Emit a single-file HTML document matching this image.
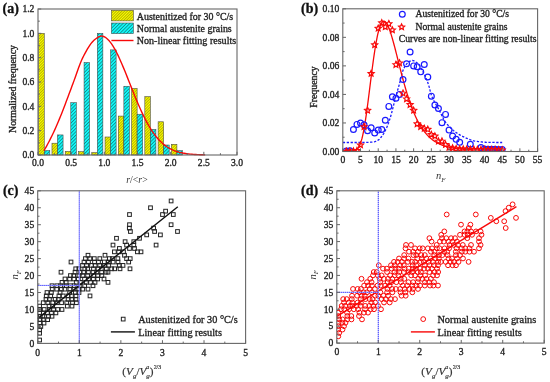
<!DOCTYPE html>
<html><head><meta charset="utf-8"><title>Figure</title>
<style>html,body{margin:0;padding:0;background:#fff;}body{width:550px;height:382px;overflow:hidden;font-family:"Liberation Serif",serif;}svg{display:block;will-change:transform;}</style>
</head><body>
<svg width="550" height="382" viewBox="0 0 550 382" font-family="Liberation Serif, serif"><defs>
<pattern id="hy" patternUnits="userSpaceOnUse" width="1.95" height="1.95" patternTransform="rotate(45)">
<rect width="1.95" height="1.95" fill="#ffff00"/><line x1="0.35" y1="0" x2="0.35" y2="1.95" stroke="#6a6a00" stroke-width="0.6"/></pattern>
<pattern id="hc" patternUnits="userSpaceOnUse" width="2.4" height="2.4" patternTransform="rotate(45)">
<rect width="2.4" height="2.4" fill="#10f8f8"/><line x1="0.4" y1="0" x2="0.4" y2="2.4" stroke="#127a7a" stroke-width="0.7"/></pattern>
<path id="star" d="M0.00,-2.90 L0.88,-0.96 L3.00,-0.72 L1.43,0.71 L1.85,2.80 L0.00,1.75 L-1.85,2.80 L-1.43,0.71 L-3.00,-0.72 L-0.88,-0.96 Z"/>
</defs>
<rect x="38.7" y="33.33" width="5.55" height="121.67" fill="url(#hy)" stroke="#444" stroke-width="0.55"/>
<rect x="44.25" y="150.62" width="5.55" height="4.38" fill="url(#hc)" stroke="#444" stroke-width="0.55"/>
<rect x="51.97" y="143.2" width="5.55" height="11.8" fill="url(#hy)" stroke="#444" stroke-width="0.55"/>
<rect x="57.52" y="134.93" width="5.55" height="20.07" fill="url(#hc)" stroke="#444" stroke-width="0.55"/>
<rect x="65.23" y="151.35" width="5.55" height="3.65" fill="url(#hy)" stroke="#444" stroke-width="0.55"/>
<rect x="70.78" y="102.68" width="5.55" height="52.32" fill="url(#hc)" stroke="#444" stroke-width="0.55"/>
<rect x="78.5" y="151.72" width="5.55" height="3.28" fill="url(#hy)" stroke="#444" stroke-width="0.55"/>
<rect x="84.05" y="62.53" width="5.55" height="92.47" fill="url(#hc)" stroke="#444" stroke-width="0.55"/>
<rect x="91.77" y="152.57" width="5.55" height="2.43" fill="url(#hy)" stroke="#444" stroke-width="0.55"/>
<rect x="97.32" y="33.33" width="5.55" height="121.67" fill="url(#hc)" stroke="#444" stroke-width="0.55"/>
<rect x="105.03" y="136.99" width="5.55" height="18.01" fill="url(#hy)" stroke="#444" stroke-width="0.55"/>
<rect x="110.58" y="49.88" width="5.55" height="105.12" fill="url(#hc)" stroke="#444" stroke-width="0.55"/>
<rect x="118.3" y="116.07" width="5.55" height="38.93" fill="url(#hy)" stroke="#444" stroke-width="0.55"/>
<rect x="123.85" y="86.26" width="5.55" height="68.74" fill="url(#hc)" stroke="#444" stroke-width="0.55"/>
<rect x="131.57" y="88.45" width="5.55" height="66.55" fill="url(#hy)" stroke="#444" stroke-width="0.55"/>
<rect x="137.12" y="114.24" width="5.55" height="40.76" fill="url(#hc)" stroke="#444" stroke-width="0.55"/>
<rect x="144.83" y="96.6" width="5.55" height="58.4" fill="url(#hy)" stroke="#444" stroke-width="0.55"/>
<rect x="150.38" y="129.45" width="5.55" height="25.55" fill="url(#hc)" stroke="#444" stroke-width="0.55"/>
<rect x="158.1" y="121.78" width="5.55" height="33.22" fill="url(#hy)" stroke="#444" stroke-width="0.55"/>
<rect x="163.65" y="145.02" width="5.55" height="9.98" fill="url(#hc)" stroke="#444" stroke-width="0.55"/>
<rect x="171.37" y="144.29" width="5.55" height="10.71" fill="url(#hy)" stroke="#444" stroke-width="0.55"/>
<rect x="176.92" y="150.62" width="5.55" height="4.38" fill="url(#hc)" stroke="#444" stroke-width="0.55"/>
<path d="M43.97,150.62 L44.94,148.99 L45.9,147.3 L46.87,145.57 L47.84,143.79 L48.8,141.96 L49.77,140.09 L50.74,138.18 L51.71,136.24 L52.67,134.25 L53.64,132.22 L54.61,130.12 L55.57,127.97 L56.54,125.75 L57.51,123.49 L58.47,121.19 L59.44,118.86 L60.41,116.51 L61.37,114.14 L62.34,111.72 L63.31,109.25 L64.27,106.74 L65.24,104.19 L66.21,101.62 L67.18,99.03 L68.14,96.43 L69.11,93.83 L70.08,91.24 L71.04,88.66 L72.01,86.1 L72.98,83.53 L73.94,80.88 L74.91,78.16 L75.88,75.41 L76.84,72.66 L77.81,69.94 L78.78,67.28 L79.75,64.72 L80.71,62.28 L81.68,59.99 L82.65,57.89 L83.61,55.99 L84.58,54.16 L85.55,52.37 L86.51,50.63 L87.48,48.96 L88.45,47.35 L89.41,45.84 L90.38,44.42 L91.35,43.12 L92.31,41.94 L93.28,40.9 L94.25,40.01 L95.22,39.24 L96.18,38.51 L97.15,37.83 L98.12,37.23 L99.08,36.72 L100.05,36.31 L101.02,36.01 L102.33,36.14 L103.65,36.52 L104.97,37.15 L106.29,38.03 L107.61,39.15 L108.93,40.5 L110.24,42.08 L111.56,43.87 L112.88,45.87 L114.2,48.06 L115.52,50.43 L116.84,52.97 L118.15,55.66 L119.47,58.48 L120.79,61.43 L122.11,64.47 L123.43,67.61 L124.75,70.82 L126.06,74.08 L127.38,77.38 L128.7,80.7 L130.02,84.04 L131.34,87.37 L132.66,90.68 L133.97,93.96 L135.29,97.2 L136.61,100.38 L137.93,103.49 L139.25,106.54 L140.56,109.49 L141.88,112.37 L143.2,115.14 L144.52,117.81 L145.84,120.38 L147.16,122.84 L148.47,125.19 L149.79,127.42 L151.11,129.55 L152.43,131.56 L153.75,133.45 L155.07,135.24 L156.38,136.92 L157.7,138.48 L159.02,139.95 L160.34,141.31 L161.66,142.58 L162.98,143.76 L164.29,144.84 L165.61,145.84 L166.93,146.76 L168.25,147.6 L169.57,148.37 L170.88,149.08 L172.2,149.72 L173.52,150.3 L174.84,150.82 L176.16,151.3 L177.48,151.73 L178.79,152.11 L180.11,152.45 L181.43,152.76 L182.75,153.04 L184.07,153.28 L185.39,153.5 L186.7,153.69 L188.02,153.86 L189.34,154.02 L190.66,154.15 L191.98,154.26 L193.3,154.37 L194.61,154.45 L195.93,154.53 L197.25,154.6 L198.57,154.66 L199.89,154.71 L201.21,154.75 L202.52,154.79 L203.84,154.82 L205.16,154.85" fill="none" stroke="#f80808" stroke-width="1.4"/>
<rect x="38" y="9" width="199" height="146" fill="none" stroke="#666" stroke-width="1.1"/>
<line x1="38" y1="155" x2="38" y2="151.8" stroke="#666" stroke-width="1"/>
<line x1="71.17" y1="155" x2="71.17" y2="151.8" stroke="#666" stroke-width="1"/>
<line x1="104.33" y1="155" x2="104.33" y2="151.8" stroke="#666" stroke-width="1"/>
<line x1="137.5" y1="155" x2="137.5" y2="151.8" stroke="#666" stroke-width="1"/>
<line x1="170.67" y1="155" x2="170.67" y2="151.8" stroke="#666" stroke-width="1"/>
<line x1="203.83" y1="155" x2="203.83" y2="151.8" stroke="#666" stroke-width="1"/>
<line x1="237" y1="155" x2="237" y2="151.8" stroke="#666" stroke-width="1"/>
<line x1="54.58" y1="155" x2="54.58" y2="153.2" stroke="#666" stroke-width="1"/>
<line x1="87.75" y1="155" x2="87.75" y2="153.2" stroke="#666" stroke-width="1"/>
<line x1="120.92" y1="155" x2="120.92" y2="153.2" stroke="#666" stroke-width="1"/>
<line x1="154.08" y1="155" x2="154.08" y2="153.2" stroke="#666" stroke-width="1"/>
<line x1="187.25" y1="155" x2="187.25" y2="153.2" stroke="#666" stroke-width="1"/>
<line x1="220.42" y1="155" x2="220.42" y2="153.2" stroke="#666" stroke-width="1"/>
<text x="38" y="166" font-size="9.6" text-anchor="middle" font-weight="normal" font-style="normal" fill="#222" stroke="#222" stroke-width="0.32" >0.0</text>
<text x="71.17" y="166" font-size="9.6" text-anchor="middle" font-weight="normal" font-style="normal" fill="#222" stroke="#222" stroke-width="0.32" >0.5</text>
<text x="104.33" y="166" font-size="9.6" text-anchor="middle" font-weight="normal" font-style="normal" fill="#222" stroke="#222" stroke-width="0.32" >1.0</text>
<text x="137.5" y="166" font-size="9.6" text-anchor="middle" font-weight="normal" font-style="normal" fill="#222" stroke="#222" stroke-width="0.32" >1.5</text>
<text x="170.67" y="166" font-size="9.6" text-anchor="middle" font-weight="normal" font-style="normal" fill="#222" stroke="#222" stroke-width="0.32" >2.0</text>
<text x="203.83" y="166" font-size="9.6" text-anchor="middle" font-weight="normal" font-style="normal" fill="#222" stroke="#222" stroke-width="0.32" >2.5</text>
<text x="237" y="166" font-size="9.6" text-anchor="middle" font-weight="normal" font-style="normal" fill="#222" stroke="#222" stroke-width="0.32" >3.0</text>
<line x1="38" y1="155" x2="41.2" y2="155" stroke="#666" stroke-width="1"/>
<line x1="38" y1="130.67" x2="41.2" y2="130.67" stroke="#666" stroke-width="1"/>
<line x1="38" y1="106.33" x2="41.2" y2="106.33" stroke="#666" stroke-width="1"/>
<line x1="38" y1="82" x2="41.2" y2="82" stroke="#666" stroke-width="1"/>
<line x1="38" y1="57.67" x2="41.2" y2="57.67" stroke="#666" stroke-width="1"/>
<line x1="38" y1="33.33" x2="41.2" y2="33.33" stroke="#666" stroke-width="1"/>
<line x1="38" y1="9" x2="41.2" y2="9" stroke="#666" stroke-width="1"/>
<line x1="38" y1="142.83" x2="39.8" y2="142.83" stroke="#666" stroke-width="1"/>
<line x1="38" y1="118.5" x2="39.8" y2="118.5" stroke="#666" stroke-width="1"/>
<line x1="38" y1="94.17" x2="39.8" y2="94.17" stroke="#666" stroke-width="1"/>
<line x1="38" y1="69.83" x2="39.8" y2="69.83" stroke="#666" stroke-width="1"/>
<line x1="38" y1="45.5" x2="39.8" y2="45.5" stroke="#666" stroke-width="1"/>
<line x1="38" y1="21.17" x2="39.8" y2="21.17" stroke="#666" stroke-width="1"/>
<text x="34.4" y="158.3" font-size="9.6" text-anchor="end" font-weight="normal" font-style="normal" fill="#222" stroke="#222" stroke-width="0.32" >0.0</text>
<text x="34.4" y="133.97" font-size="9.6" text-anchor="end" font-weight="normal" font-style="normal" fill="#222" stroke="#222" stroke-width="0.32" >0.2</text>
<text x="34.4" y="109.63" font-size="9.6" text-anchor="end" font-weight="normal" font-style="normal" fill="#222" stroke="#222" stroke-width="0.32" >0.4</text>
<text x="34.4" y="85.3" font-size="9.6" text-anchor="end" font-weight="normal" font-style="normal" fill="#222" stroke="#222" stroke-width="0.32" >0.6</text>
<text x="34.4" y="60.97" font-size="9.6" text-anchor="end" font-weight="normal" font-style="normal" fill="#222" stroke="#222" stroke-width="0.32" >0.8</text>
<text x="34.4" y="36.63" font-size="9.6" text-anchor="end" font-weight="normal" font-style="normal" fill="#222" stroke="#222" stroke-width="0.32" >1.0</text>
<text x="34.4" y="12.3" font-size="9.6" text-anchor="end" font-weight="normal" font-style="normal" fill="#222" stroke="#222" stroke-width="0.32" >1.2</text>
<rect x="111.4" y="10.3" width="22" height="10.6" fill="url(#hy)" stroke="#444" stroke-width="0.55"/>
<rect x="111.4" y="23" width="22" height="10.6" fill="url(#hc)" stroke="#444" stroke-width="0.55"/>
<line x1="111.4" y1="40.5" x2="133.5" y2="40.5" stroke="#f80808" stroke-width="1.4"/>
<text x="136.8" y="20" font-size="9.95" text-anchor="start" font-weight="normal" font-style="normal" fill="#222" stroke="#222" stroke-width="0.32" >Austenitized for 30 °C/s</text>
<text x="136.8" y="32" font-size="9.95" text-anchor="start" font-weight="normal" font-style="normal" fill="#222" stroke="#222" stroke-width="0.32" >Normal austenite grains</text>
<text x="136.8" y="43.9" font-size="10.05" text-anchor="start" font-weight="normal" font-style="normal" fill="#222" stroke="#222" stroke-width="0.32" >Non-linear fitting results</text>
<text x="2.6" y="13.1" font-size="14" text-anchor="start" font-weight="bold" font-style="normal" fill="#111" stroke="#111" stroke-width="0.32" >(a)</text>
<text x="12.2" y="89" font-size="9.8" text-anchor="middle" font-weight="normal" font-style="normal" fill="#222" stroke="#222" stroke-width="0.32" transform="rotate(-90 12.2 89)" dy="3.4">Normalized frequency</text>
<text x="137" y="182.5" font-size="9.8" text-anchor="middle" fill="#333"><tspan font-style="italic">r</tspan>/&lt;<tspan font-style="italic">r</tspan>&gt;</text>
<clipPath id="cb"><rect x="342.8" y="8.8" width="194.8" height="142.7"/></clipPath><g clip-path="url(#cb)">
<path d="M342.8,142.51 L343.6,142.51 L344.4,142.51 L345.2,142.51 L346,142.51 L346.8,142.51 L347.61,142.51 L348.41,142.51 L349.21,142.51 L350.01,142.51 L350.81,142.51 L351.61,142.51 L352.41,142.51 L353.21,142.51 L354.01,142.51 L354.81,142.51 L355.61,142.51 L356.42,142.51 L357.22,142.51 L358.02,142.51 L358.82,142.51 L359.62,142.51 L360.42,142.51 L361.22,142.51 L362.02,142.5 L362.82,142.5 L363.62,142.48 L364.42,142.47 L365.23,142.45 L366.03,142.43 L366.83,142.4 L367.63,142.37 L368.43,142.34 L369.23,142.3 L370.03,142.26 L370.83,142.22 L371.63,142.17 L372.43,142.11 L373.23,142.05 L374.04,141.91 L374.84,141.68 L375.64,141.39 L376.44,141.03 L377.24,140.63 L378.04,140.19 L378.84,139.66 L379.64,138.93 L380.44,138.03 L381.24,137.01 L382.04,135.91 L382.85,134.77 L383.65,133.55 L384.45,132.19 L385.25,130.69 L386.05,129.07 L386.85,127.32 L387.65,125.41 L388.45,123.25 L389.25,120.88 L390.05,118.37 L390.85,115.73 L391.66,112.84 L392.46,109.75 L393.26,106.62 L394.06,103.36 L394.86,100.06 L395.66,96.95 L396.46,94.11 L397.26,91.41 L398.06,88.75 L398.86,86.03 L399.66,83.07 L400.47,79.78 L401.27,76.41 L402.07,73.28 L402.87,70.67 L403.67,68.82 L404.47,67.28 L405.27,65.9 L406.07,64.69 L406.87,63.67 L407.67,62.84 L408.47,62.21 L409.28,61.65 L410.08,61.15 L410.88,60.75 L411.68,60.51 L412.48,60.47 L413.28,60.62 L414.08,60.94 L414.88,61.38 L415.68,61.91 L416.48,62.5 L417.28,63.11 L418.09,63.91 L418.89,64.95 L419.69,66.16 L420.49,67.46 L421.29,68.79 L422.09,70.13 L422.89,71.54 L423.69,73.04 L424.49,74.64 L425.29,76.34 L426.1,78.15 L426.9,80.14 L427.7,82.32 L428.5,84.7 L429.3,87.38 L430.1,90.63 L430.9,93.75 L431.7,96.06 L432.5,97.96 L433.3,99.66 L434.1,101.2 L434.91,102.62 L435.71,103.98 L436.51,105.31 L437.31,106.67 L438.11,108.09 L438.91,109.62 L439.71,111.23 L440.51,112.88 L441.31,114.54 L442.11,116.18 L442.91,117.76 L443.72,119.25 L444.52,120.62 L445.32,121.83 L446.12,122.9 L446.92,123.92 L447.72,124.88 L448.52,125.8 L449.32,126.67 L450.12,127.5 L450.92,128.29 L451.72,129.04 L452.53,129.75 L453.33,130.43 L454.13,131.07 L454.93,131.68 L455.73,132.26 L456.53,132.82 L457.33,133.36 L458.13,133.88 L458.93,134.38 L459.73,134.86 L460.53,135.32 L461.34,135.76 L462.14,136.18 L462.94,136.58 L463.74,136.96 L464.54,137.33 L465.34,137.68 L466.14,138.04 L466.94,138.39 L467.74,138.74 L468.54,139.08 L469.34,139.4 L470.15,139.72 L470.95,140.01 L471.75,140.29 L472.55,140.54 L473.35,140.76 L474.15,140.96 L474.95,141.12 L475.75,141.24 L476.55,141.36 L477.35,141.46 L478.15,141.56 L478.96,141.66 L479.76,141.75 L480.56,141.84 L481.36,141.92 L482.16,142 L482.96,142.07 L483.76,142.13 L484.56,142.19 L485.36,142.24 L486.16,142.28 L486.96,142.32 L487.77,142.34 L488.57,142.36 L489.37,142.38 L490.17,142.39 L490.97,142.41 L491.77,142.42 L492.57,142.43 L493.37,142.44 L494.17,142.46 L494.97,142.46 L495.77,142.47 L496.58,142.48 L497.38,142.49 L498.18,142.5 L498.98,142.5 L499.78,142.5 L500.58,142.51 L501.38,142.51 L502.18,142.51" fill="none" stroke="#1a1aff" stroke-width="1.3" stroke-dasharray="2.3,1.6"/>
<path d="M344.57,150.36 L345.1,150.36 L345.63,150.36 L346.15,150.36 L346.68,150.36 L347.21,150.36 L347.73,150.36 L348.26,150.36 L348.79,150.36 L349.32,150.36 L349.84,150.36 L350.37,150.36 L350.9,150.36 L351.42,150.35 L351.95,150.35 L352.48,150.33 L353,150.31 L353.53,150.28 L354.06,150.23 L354.59,150.14 L355.11,150.03 L355.64,149.86 L356.17,149.63 L356.69,149.32 L357.22,148.92 L357.75,148.41 L358.28,147.78 L358.8,147 L359.33,146.06 L359.86,144.95 L360.38,143.64 L360.91,142.14 L361.44,140.42 L361.97,138.49 L362.49,136.33 L363.02,133.95 L363.55,131.35 L364.07,128.54 L364.6,125.51 L365.13,122.29 L365.66,118.88 L366.18,115.31 L366.71,111.58 L367.24,107.71 L367.76,103.74 L368.29,99.67 L368.82,95.53 L369.35,91.34 L369.87,87.13 L370.4,82.92 L370.93,78.73 L371.45,74.57 L371.98,70.48 L372.51,66.47 L373.04,62.57 L373.56,58.77 L374.09,55.11 L374.62,51.6 L375.14,48.25 L375.67,45.07 L376.2,42.07 L376.73,39.26 L377.25,36.64 L377.78,34.23 L378.31,32.02 L378.83,30.02 L379.36,28.23 L379.89,26.65 L380.42,25.28 L380.94,24.11 L381.47,23.15 L382,22.38 L382.52,21.82 L383.05,21.44 L383.58,21.24 L384.11,21.23 L384.63,21.39 L385.16,21.71 L385.69,22.19 L386.21,22.82 L386.74,23.59 L387.27,24.49 L387.8,25.52 L388.32,26.67 L388.85,27.93 L389.38,29.29 L389.9,30.75 L390.43,32.3 L390.96,33.92 L391.49,35.62 L392.01,37.38 L392.54,39.2 L393.07,41.08 L393.59,43 L394.12,44.96 L394.65,46.95 L395.18,48.97 L395.7,51.02 L396.23,53.08 L396.76,55.15 L397.28,57.24 L397.81,59.33 L398.34,61.42 L398.86,63.51 L399.39,65.59 L399.92,67.66 L400.45,69.71 L400.97,71.76 L401.5,73.78 L402.03,75.78 L402.55,77.77 L403.08,79.72 L403.61,81.65 L404.14,83.56 L404.66,85.43 L405.19,87.27 L405.72,89.09 L406.24,90.87 L406.77,92.61 L407.3,94.33 L407.83,96 L408.35,97.65 L408.88,99.26 L409.41,100.83 L409.93,102.37 L410.46,103.87 L410.99,105.33 L411.52,106.76 L412.04,108.16 L412.57,109.52 L413.1,110.84 L413.62,112.13 L414.15,113.38 L414.68,114.61 L415.21,115.79 L415.73,116.95 L416.26,118.07 L416.79,119.16 L417.31,120.22 L417.84,121.24 L418.37,122.24 L418.9,123.21 L419.42,124.14 L419.95,125.05 L420.48,125.93 L421,126.79 L421.53,127.61 L422.06,128.41 L422.59,129.19 L423.11,129.94 L423.64,130.66 L424.17,131.36 L424.69,132.04 L425.22,132.7 L425.75,133.33 L426.28,133.95 L426.8,134.54 L427.33,135.11 L427.86,135.67 L428.38,136.2 L428.91,136.72 L429.44,137.22 L429.97,137.7 L430.49,138.16 L431.02,138.61 L431.55,139.04 L432.07,139.46 L432.6,139.86 L433.13,140.25 L433.66,140.63 L434.18,140.99 L434.71,141.34 L435.24,141.67 L435.76,142 L436.29,142.31 L436.82,142.61 L437.35,142.9 L437.87,143.18 L438.4,143.45 L438.93,143.71 L439.45,143.96 L439.98,144.2 L440.51,144.43 L441.04,144.65 L441.56,144.87 L442.09,145.07 L442.62,145.27 L443.14,145.47 L443.67,145.65 L444.2,145.83 L444.72,146 L445.25,146.17 L445.78,146.32 L446.31,146.48 L446.83,146.62 L447.36,146.77 L447.89,146.9 L448.41,147.03 L448.94,147.16 L449.47,147.28 L450,147.4 L450.52,147.51 L451.05,147.62 L451.58,147.72 L452.1,147.82 L452.63,147.92 L453.16,148.01 L453.69,148.1 L454.21,148.19 L454.74,148.27 L455.27,148.35 L455.79,148.42 L456.32,148.5 L456.85,148.57 L457.38,148.64 L457.9,148.7 L458.43,148.77 L458.96,148.83 L459.48,148.88 L460.01,148.94 L460.54,148.99 L461.07,149.05 L461.59,149.1 L462.12,149.14 L462.65,149.19 L463.17,149.23 L463.7,149.28 L464.23,149.32 L464.76,149.36 L465.28,149.39 L465.81,149.43 L466.34,149.47 L466.86,149.5 L467.39,149.53 L467.92,149.56 L468.45,149.59 L468.97,149.62 L469.5,149.65 L470.03,149.68 L470.55,149.7 L471.08,149.73 L471.61,149.75 L472.14,149.77 L472.66,149.8 L473.19,149.82 L473.72,149.84 L474.24,149.86 L474.77,149.88 L475.3,149.89 L475.83,149.91 L476.35,149.93 L476.88,149.94 L477.41,149.96 L477.93,149.97 L478.46,149.99 L478.99,150 L479.52,150.02 L480.04,150.03 L480.57,150.04 L481.1,150.05 L481.62,150.06 L482.15,150.08 L482.68,150.09 L483.21,150.1 L483.73,150.11 L484.26,150.12 L484.79,150.12 L485.31,150.13 L485.84,150.14 L486.37,150.15 L486.9,150.16 L487.42,150.16 L487.95,150.17 L488.48,150.18 L489,150.19 L489.53,150.19 L490.06,150.2 L490.59,150.2 L491.11,150.21 L491.64,150.21 L492.17,150.22 L492.69,150.23 L493.22,150.23 L493.75,150.23 L494.27,150.24 L494.8,150.24 L495.33,150.25 L495.86,150.25 L496.38,150.26 L496.91,150.26 L497.44,150.26 L497.96,150.27 L498.49,150.27 L499.02,150.27 L499.55,150.28 L500.07,150.28 L500.6,150.28 L501.13,150.28 L501.65,150.29 L502.18,150.29" fill="none" stroke="#f80808" stroke-width="1.3"/>
<circle cx="346.34" cy="150.93" r="2.9" fill="none" stroke="#1a1aff" stroke-width="1.2"/>
<circle cx="349.88" cy="150.79" r="2.9" fill="none" stroke="#1a1aff" stroke-width="1.2"/>
<circle cx="353.43" cy="129.52" r="2.9" fill="none" stroke="#1a1aff" stroke-width="1.2"/>
<circle cx="356.97" cy="124.39" r="2.9" fill="none" stroke="#1a1aff" stroke-width="1.2"/>
<circle cx="360.51" cy="122.96" r="2.9" fill="none" stroke="#1a1aff" stroke-width="1.2"/>
<circle cx="364.05" cy="124.82" r="2.9" fill="none" stroke="#1a1aff" stroke-width="1.2"/>
<circle cx="367.59" cy="130.81" r="2.9" fill="none" stroke="#1a1aff" stroke-width="1.2"/>
<circle cx="371.13" cy="127.81" r="2.9" fill="none" stroke="#1a1aff" stroke-width="1.2"/>
<circle cx="374.68" cy="132.95" r="2.9" fill="none" stroke="#1a1aff" stroke-width="1.2"/>
<circle cx="378.22" cy="130.09" r="2.9" fill="none" stroke="#1a1aff" stroke-width="1.2"/>
<circle cx="381.76" cy="129.52" r="2.9" fill="none" stroke="#1a1aff" stroke-width="1.2"/>
<circle cx="385.3" cy="120.25" r="2.9" fill="none" stroke="#1a1aff" stroke-width="1.2"/>
<circle cx="388.84" cy="106.41" r="2.9" fill="none" stroke="#1a1aff" stroke-width="1.2"/>
<circle cx="392.39" cy="96.7" r="2.9" fill="none" stroke="#1a1aff" stroke-width="1.2"/>
<circle cx="395.93" cy="98.13" r="2.9" fill="none" stroke="#1a1aff" stroke-width="1.2"/>
<circle cx="399.47" cy="94.42" r="2.9" fill="none" stroke="#1a1aff" stroke-width="1.2"/>
<circle cx="403.01" cy="79.44" r="2.9" fill="none" stroke="#1a1aff" stroke-width="1.2"/>
<circle cx="406.55" cy="63.74" r="2.9" fill="none" stroke="#1a1aff" stroke-width="1.2"/>
<circle cx="410.09" cy="52.04" r="2.9" fill="none" stroke="#1a1aff" stroke-width="1.2"/>
<circle cx="413.64" cy="65.88" r="2.9" fill="none" stroke="#1a1aff" stroke-width="1.2"/>
<circle cx="417.18" cy="66.74" r="2.9" fill="none" stroke="#1a1aff" stroke-width="1.2"/>
<circle cx="420.72" cy="71.87" r="2.9" fill="none" stroke="#1a1aff" stroke-width="1.2"/>
<circle cx="424.26" cy="64.45" r="2.9" fill="none" stroke="#1a1aff" stroke-width="1.2"/>
<circle cx="427.8" cy="77.01" r="2.9" fill="none" stroke="#1a1aff" stroke-width="1.2"/>
<circle cx="431.35" cy="96.13" r="2.9" fill="none" stroke="#1a1aff" stroke-width="1.2"/>
<circle cx="434.89" cy="104.98" r="2.9" fill="none" stroke="#1a1aff" stroke-width="1.2"/>
<circle cx="438.43" cy="108.55" r="2.9" fill="none" stroke="#1a1aff" stroke-width="1.2"/>
<circle cx="441.97" cy="122.67" r="2.9" fill="none" stroke="#1a1aff" stroke-width="1.2"/>
<circle cx="445.51" cy="114.4" r="2.9" fill="none" stroke="#1a1aff" stroke-width="1.2"/>
<circle cx="449.05" cy="130.09" r="2.9" fill="none" stroke="#1a1aff" stroke-width="1.2"/>
<circle cx="452.6" cy="135.95" r="2.9" fill="none" stroke="#1a1aff" stroke-width="1.2"/>
<circle cx="456.14" cy="139.37" r="2.9" fill="none" stroke="#1a1aff" stroke-width="1.2"/>
<circle cx="459.68" cy="142.37" r="2.9" fill="none" stroke="#1a1aff" stroke-width="1.2"/>
<circle cx="470.31" cy="144.22" r="2.9" fill="none" stroke="#1a1aff" stroke-width="1.2"/>
<circle cx="480.93" cy="147.5" r="2.9" fill="none" stroke="#1a1aff" stroke-width="1.2"/>
<circle cx="484.47" cy="149.07" r="2.9" fill="none" stroke="#1a1aff" stroke-width="1.2"/>
<circle cx="488.01" cy="149.22" r="2.9" fill="none" stroke="#1a1aff" stroke-width="1.2"/>
<circle cx="491.56" cy="149.36" r="2.9" fill="none" stroke="#1a1aff" stroke-width="1.2"/>
<circle cx="495.1" cy="149.36" r="2.9" fill="none" stroke="#1a1aff" stroke-width="1.2"/>
<circle cx="498.64" cy="149.5" r="2.9" fill="none" stroke="#1a1aff" stroke-width="1.2"/>
<circle cx="502.18" cy="149.5" r="2.9" fill="none" stroke="#1a1aff" stroke-width="1.2"/>
<use href="#star" x="346.34" y="151.07" fill="none" stroke="#f80808" stroke-width="1.2"/>
<use href="#star" x="349.88" y="151.07" fill="none" stroke="#f80808" stroke-width="1.2"/>
<use href="#star" x="353.43" y="150.93" fill="none" stroke="#f80808" stroke-width="1.2"/>
<use href="#star" x="356.97" y="150.36" fill="none" stroke="#f80808" stroke-width="1.2"/>
<use href="#star" x="360.51" y="144.79" fill="none" stroke="#f80808" stroke-width="1.2"/>
<use href="#star" x="364.05" y="126.53" fill="none" stroke="#f80808" stroke-width="1.2"/>
<use href="#star" x="367.59" y="110.12" fill="none" stroke="#f80808" stroke-width="1.2"/>
<use href="#star" x="371.13" y="73.3" fill="none" stroke="#f80808" stroke-width="1.2"/>
<use href="#star" x="374.68" y="44.62" fill="none" stroke="#f80808" stroke-width="1.2"/>
<use href="#star" x="378.22" y="28.06" fill="none" stroke="#f80808" stroke-width="1.2"/>
<use href="#star" x="381.76" y="22.64" fill="none" stroke="#f80808" stroke-width="1.2"/>
<use href="#star" x="385.3" y="26.64" fill="none" stroke="#f80808" stroke-width="1.2"/>
<use href="#star" x="388.84" y="23.5" fill="none" stroke="#f80808" stroke-width="1.2"/>
<use href="#star" x="392.39" y="29.78" fill="none" stroke="#f80808" stroke-width="1.2"/>
<use href="#star" x="395.93" y="64.45" fill="none" stroke="#f80808" stroke-width="1.2"/>
<use href="#star" x="399.47" y="62.74" fill="none" stroke="#f80808" stroke-width="1.2"/>
<use href="#star" x="403.01" y="92.99" fill="none" stroke="#f80808" stroke-width="1.2"/>
<use href="#star" x="406.55" y="98.7" fill="none" stroke="#f80808" stroke-width="1.2"/>
<use href="#star" x="410.09" y="104.41" fill="none" stroke="#f80808" stroke-width="1.2"/>
<use href="#star" x="413.64" y="110.12" fill="none" stroke="#f80808" stroke-width="1.2"/>
<use href="#star" x="417.18" y="123.67" fill="none" stroke="#f80808" stroke-width="1.2"/>
<use href="#star" x="420.72" y="126.53" fill="none" stroke="#f80808" stroke-width="1.2"/>
<use href="#star" x="424.26" y="128.24" fill="none" stroke="#f80808" stroke-width="1.2"/>
<use href="#star" x="427.8" y="129.1" fill="none" stroke="#f80808" stroke-width="1.2"/>
<use href="#star" x="431.35" y="134.38" fill="none" stroke="#f80808" stroke-width="1.2"/>
<use href="#star" x="434.89" y="135.8" fill="none" stroke="#f80808" stroke-width="1.2"/>
<use href="#star" x="438.43" y="140.94" fill="none" stroke="#f80808" stroke-width="1.2"/>
<use href="#star" x="441.97" y="140.94" fill="none" stroke="#f80808" stroke-width="1.2"/>
<use href="#star" x="445.51" y="144.37" fill="none" stroke="#f80808" stroke-width="1.2"/>
<use href="#star" x="449.05" y="147.22" fill="none" stroke="#f80808" stroke-width="1.2"/>
<use href="#star" x="452.6" y="147.79" fill="none" stroke="#f80808" stroke-width="1.2"/>
<use href="#star" x="456.14" y="148.5" fill="none" stroke="#f80808" stroke-width="1.2"/>
<use href="#star" x="459.68" y="148.79" fill="none" stroke="#f80808" stroke-width="1.2"/>
<use href="#star" x="463.22" y="148.93" fill="none" stroke="#f80808" stroke-width="1.2"/>
<use href="#star" x="466.76" y="149.07" fill="none" stroke="#f80808" stroke-width="1.2"/>
<use href="#star" x="470.31" y="149.22" fill="none" stroke="#f80808" stroke-width="1.2"/>
<use href="#star" x="473.85" y="149.22" fill="none" stroke="#f80808" stroke-width="1.2"/>
<use href="#star" x="477.39" y="149.36" fill="none" stroke="#f80808" stroke-width="1.2"/>
<use href="#star" x="480.93" y="149.36" fill="none" stroke="#f80808" stroke-width="1.2"/>
<use href="#star" x="484.47" y="149.36" fill="none" stroke="#f80808" stroke-width="1.2"/>
<use href="#star" x="488.01" y="149.5" fill="none" stroke="#f80808" stroke-width="1.2"/>
<use href="#star" x="491.56" y="149.5" fill="none" stroke="#f80808" stroke-width="1.2"/>
<use href="#star" x="495.1" y="149.5" fill="none" stroke="#f80808" stroke-width="1.2"/>
<use href="#star" x="498.64" y="149.64" fill="none" stroke="#f80808" stroke-width="1.2"/>
<use href="#star" x="502.18" y="149.79" fill="none" stroke="#f80808" stroke-width="1.2"/>
</g>
<rect x="342.8" y="8.8" width="194.8" height="142.7" fill="none" stroke="#666" stroke-width="1.1"/>
<line x1="342.8" y1="151.5" x2="342.8" y2="148.3" stroke="#666" stroke-width="1"/>
<line x1="360.51" y1="151.5" x2="360.51" y2="148.3" stroke="#666" stroke-width="1"/>
<line x1="378.22" y1="151.5" x2="378.22" y2="148.3" stroke="#666" stroke-width="1"/>
<line x1="395.93" y1="151.5" x2="395.93" y2="148.3" stroke="#666" stroke-width="1"/>
<line x1="413.64" y1="151.5" x2="413.64" y2="148.3" stroke="#666" stroke-width="1"/>
<line x1="431.35" y1="151.5" x2="431.35" y2="148.3" stroke="#666" stroke-width="1"/>
<line x1="449.05" y1="151.5" x2="449.05" y2="148.3" stroke="#666" stroke-width="1"/>
<line x1="466.76" y1="151.5" x2="466.76" y2="148.3" stroke="#666" stroke-width="1"/>
<line x1="484.47" y1="151.5" x2="484.47" y2="148.3" stroke="#666" stroke-width="1"/>
<line x1="502.18" y1="151.5" x2="502.18" y2="148.3" stroke="#666" stroke-width="1"/>
<line x1="519.89" y1="151.5" x2="519.89" y2="148.3" stroke="#666" stroke-width="1"/>
<line x1="537.6" y1="151.5" x2="537.6" y2="148.3" stroke="#666" stroke-width="1"/>
<line x1="351.65" y1="151.5" x2="351.65" y2="149.7" stroke="#666" stroke-width="1"/>
<line x1="369.36" y1="151.5" x2="369.36" y2="149.7" stroke="#666" stroke-width="1"/>
<line x1="387.07" y1="151.5" x2="387.07" y2="149.7" stroke="#666" stroke-width="1"/>
<line x1="404.78" y1="151.5" x2="404.78" y2="149.7" stroke="#666" stroke-width="1"/>
<line x1="422.49" y1="151.5" x2="422.49" y2="149.7" stroke="#666" stroke-width="1"/>
<line x1="440.2" y1="151.5" x2="440.2" y2="149.7" stroke="#666" stroke-width="1"/>
<line x1="457.91" y1="151.5" x2="457.91" y2="149.7" stroke="#666" stroke-width="1"/>
<line x1="475.62" y1="151.5" x2="475.62" y2="149.7" stroke="#666" stroke-width="1"/>
<line x1="493.33" y1="151.5" x2="493.33" y2="149.7" stroke="#666" stroke-width="1"/>
<line x1="511.04" y1="151.5" x2="511.04" y2="149.7" stroke="#666" stroke-width="1"/>
<line x1="528.75" y1="151.5" x2="528.75" y2="149.7" stroke="#666" stroke-width="1"/>
<text x="342.8" y="162.8" font-size="9.6" text-anchor="middle" font-weight="normal" font-style="normal" fill="#222" stroke="#222" stroke-width="0.32" >0</text>
<text x="360.51" y="162.8" font-size="9.6" text-anchor="middle" font-weight="normal" font-style="normal" fill="#222" stroke="#222" stroke-width="0.32" >5</text>
<text x="378.22" y="162.8" font-size="9.6" text-anchor="middle" font-weight="normal" font-style="normal" fill="#222" stroke="#222" stroke-width="0.32" >10</text>
<text x="395.93" y="162.8" font-size="9.6" text-anchor="middle" font-weight="normal" font-style="normal" fill="#222" stroke="#222" stroke-width="0.32" >15</text>
<text x="413.64" y="162.8" font-size="9.6" text-anchor="middle" font-weight="normal" font-style="normal" fill="#222" stroke="#222" stroke-width="0.32" >20</text>
<text x="431.35" y="162.8" font-size="9.6" text-anchor="middle" font-weight="normal" font-style="normal" fill="#222" stroke="#222" stroke-width="0.32" >25</text>
<text x="449.05" y="162.8" font-size="9.6" text-anchor="middle" font-weight="normal" font-style="normal" fill="#222" stroke="#222" stroke-width="0.32" >30</text>
<text x="466.76" y="162.8" font-size="9.6" text-anchor="middle" font-weight="normal" font-style="normal" fill="#222" stroke="#222" stroke-width="0.32" >35</text>
<text x="484.47" y="162.8" font-size="9.6" text-anchor="middle" font-weight="normal" font-style="normal" fill="#222" stroke="#222" stroke-width="0.32" >40</text>
<text x="502.18" y="162.8" font-size="9.6" text-anchor="middle" font-weight="normal" font-style="normal" fill="#222" stroke="#222" stroke-width="0.32" >45</text>
<text x="519.89" y="162.8" font-size="9.6" text-anchor="middle" font-weight="normal" font-style="normal" fill="#222" stroke="#222" stroke-width="0.32" >50</text>
<text x="537.6" y="162.8" font-size="9.6" text-anchor="middle" font-weight="normal" font-style="normal" fill="#222" stroke="#222" stroke-width="0.32" >55</text>
<line x1="342.8" y1="151.5" x2="346" y2="151.5" stroke="#666" stroke-width="1"/>
<line x1="342.8" y1="122.96" x2="346" y2="122.96" stroke="#666" stroke-width="1"/>
<line x1="342.8" y1="94.42" x2="346" y2="94.42" stroke="#666" stroke-width="1"/>
<line x1="342.8" y1="65.88" x2="346" y2="65.88" stroke="#666" stroke-width="1"/>
<line x1="342.8" y1="37.34" x2="346" y2="37.34" stroke="#666" stroke-width="1"/>
<line x1="342.8" y1="8.8" x2="346" y2="8.8" stroke="#666" stroke-width="1"/>
<line x1="342.8" y1="137.23" x2="344.6" y2="137.23" stroke="#666" stroke-width="1"/>
<line x1="342.8" y1="108.69" x2="344.6" y2="108.69" stroke="#666" stroke-width="1"/>
<line x1="342.8" y1="80.15" x2="344.6" y2="80.15" stroke="#666" stroke-width="1"/>
<line x1="342.8" y1="51.61" x2="344.6" y2="51.61" stroke="#666" stroke-width="1"/>
<line x1="342.8" y1="23.07" x2="344.6" y2="23.07" stroke="#666" stroke-width="1"/>
<text x="339.4" y="154.8" font-size="9.6" text-anchor="end" font-weight="normal" font-style="normal" fill="#222" stroke="#222" stroke-width="0.32" >0.00</text>
<text x="339.4" y="126.26" font-size="9.6" text-anchor="end" font-weight="normal" font-style="normal" fill="#222" stroke="#222" stroke-width="0.32" >0.02</text>
<text x="339.4" y="97.72" font-size="9.6" text-anchor="end" font-weight="normal" font-style="normal" fill="#222" stroke="#222" stroke-width="0.32" >0.04</text>
<text x="339.4" y="69.18" font-size="9.6" text-anchor="end" font-weight="normal" font-style="normal" fill="#222" stroke="#222" stroke-width="0.32" >0.06</text>
<text x="339.4" y="40.64" font-size="9.6" text-anchor="end" font-weight="normal" font-style="normal" fill="#222" stroke="#222" stroke-width="0.32" >0.08</text>
<text x="339.4" y="12.1" font-size="9.6" text-anchor="end" font-weight="normal" font-style="normal" fill="#222" stroke="#222" stroke-width="0.32" >0.10</text>
<circle cx="402.3" cy="14.2" r="2.9" fill="none" stroke="#1a1aff" stroke-width="1.2"/>
<use href="#star" x="401.6" y="26.8" fill="none" stroke="#f80808" stroke-width="1.2"/>
<text x="415.6" y="17.3" font-size="9.65" text-anchor="start" font-weight="normal" font-style="normal" fill="#222" stroke="#222" stroke-width="0.32" >Austenitized for 30 °C/s</text>
<text x="415.6" y="30" font-size="9.65" text-anchor="start" font-weight="normal" font-style="normal" fill="#222" stroke="#222" stroke-width="0.32" >Normal austenite grains</text>
<text x="398.7" y="42" font-size="9.7" text-anchor="start" font-weight="normal" font-style="normal" fill="#222" stroke="#222" stroke-width="0.32" >Curves are non-linear fitting results</text>
<text x="301" y="12.6" font-size="14" text-anchor="start" font-weight="bold" font-style="normal" fill="#111" stroke="#111" stroke-width="0.32" >(b)</text>
<text x="313.6" y="87" font-size="9.8" text-anchor="middle" font-weight="normal" font-style="normal" fill="#222" stroke="#222" stroke-width="0.32" transform="rotate(-90 313.6 87)" dy="3.4">Frequency</text>
<text x="436" y="179" font-size="10.5" fill="#333" font-style="italic">n<tspan font-size="7" dy="2.5">F</tspan></text>
<clipPath id="cc"><rect x="37.7" y="190.8" width="207.9" height="152.6"/></clipPath><g clip-path="url(#cc)">
<rect x="37.75" y="338.16" width="3.7" height="3.7" fill="none" stroke="#222" stroke-width="1"/>
<rect x="37.75" y="331.38" width="3.7" height="3.7" fill="none" stroke="#222" stroke-width="1"/>
<rect x="37.75" y="327.99" width="3.7" height="3.7" fill="none" stroke="#222" stroke-width="1"/>
<rect x="38.95" y="324.59" width="3.7" height="3.7" fill="none" stroke="#222" stroke-width="1"/>
<rect x="37.98" y="321.2" width="3.7" height="3.7" fill="none" stroke="#222" stroke-width="1"/>
<rect x="42.15" y="321.2" width="3.7" height="3.7" fill="none" stroke="#222" stroke-width="1"/>
<rect x="38.25" y="317.81" width="3.7" height="3.7" fill="none" stroke="#222" stroke-width="1"/>
<rect x="41.46" y="317.81" width="3.7" height="3.7" fill="none" stroke="#222" stroke-width="1"/>
<rect x="45.79" y="317.81" width="3.7" height="3.7" fill="none" stroke="#222" stroke-width="1"/>
<rect x="38.42" y="314.42" width="3.7" height="3.7" fill="none" stroke="#222" stroke-width="1"/>
<rect x="40.99" y="314.42" width="3.7" height="3.7" fill="none" stroke="#222" stroke-width="1"/>
<rect x="46.59" y="314.42" width="3.7" height="3.7" fill="none" stroke="#222" stroke-width="1"/>
<rect x="50.15" y="314.42" width="3.7" height="3.7" fill="none" stroke="#222" stroke-width="1"/>
<rect x="37.75" y="311.03" width="3.7" height="3.7" fill="none" stroke="#222" stroke-width="1"/>
<rect x="41.5" y="311.03" width="3.7" height="3.7" fill="none" stroke="#222" stroke-width="1"/>
<rect x="45.55" y="311.03" width="3.7" height="3.7" fill="none" stroke="#222" stroke-width="1"/>
<rect x="49.61" y="311.03" width="3.7" height="3.7" fill="none" stroke="#222" stroke-width="1"/>
<rect x="54.05" y="311.03" width="3.7" height="3.7" fill="none" stroke="#222" stroke-width="1"/>
<rect x="37.76" y="307.64" width="3.7" height="3.7" fill="none" stroke="#222" stroke-width="1"/>
<rect x="42.33" y="307.64" width="3.7" height="3.7" fill="none" stroke="#222" stroke-width="1"/>
<rect x="47.6" y="307.64" width="3.7" height="3.7" fill="none" stroke="#222" stroke-width="1"/>
<rect x="51.72" y="307.64" width="3.7" height="3.7" fill="none" stroke="#222" stroke-width="1"/>
<rect x="55.89" y="307.64" width="3.7" height="3.7" fill="none" stroke="#222" stroke-width="1"/>
<rect x="60.15" y="307.64" width="3.7" height="3.7" fill="none" stroke="#222" stroke-width="1"/>
<rect x="37.75" y="304.25" width="3.7" height="3.7" fill="none" stroke="#222" stroke-width="1"/>
<rect x="47.21" y="304.25" width="3.7" height="3.7" fill="none" stroke="#222" stroke-width="1"/>
<rect x="50.81" y="304.25" width="3.7" height="3.7" fill="none" stroke="#222" stroke-width="1"/>
<rect x="65.46" y="304.25" width="3.7" height="3.7" fill="none" stroke="#222" stroke-width="1"/>
<rect x="70.15" y="304.25" width="3.7" height="3.7" fill="none" stroke="#222" stroke-width="1"/>
<rect x="41.38" y="300.86" width="3.7" height="3.7" fill="none" stroke="#222" stroke-width="1"/>
<rect x="46.03" y="300.86" width="3.7" height="3.7" fill="none" stroke="#222" stroke-width="1"/>
<rect x="50.86" y="300.86" width="3.7" height="3.7" fill="none" stroke="#222" stroke-width="1"/>
<rect x="55.27" y="300.86" width="3.7" height="3.7" fill="none" stroke="#222" stroke-width="1"/>
<rect x="59.7" y="300.86" width="3.7" height="3.7" fill="none" stroke="#222" stroke-width="1"/>
<rect x="64.88" y="300.86" width="3.7" height="3.7" fill="none" stroke="#222" stroke-width="1"/>
<rect x="70.64" y="300.86" width="3.7" height="3.7" fill="none" stroke="#222" stroke-width="1"/>
<rect x="74.61" y="300.86" width="3.7" height="3.7" fill="none" stroke="#222" stroke-width="1"/>
<rect x="44.15" y="297.47" width="3.7" height="3.7" fill="none" stroke="#222" stroke-width="1"/>
<rect x="47.54" y="297.47" width="3.7" height="3.7" fill="none" stroke="#222" stroke-width="1"/>
<rect x="53.32" y="297.47" width="3.7" height="3.7" fill="none" stroke="#222" stroke-width="1"/>
<rect x="56.39" y="297.47" width="3.7" height="3.7" fill="none" stroke="#222" stroke-width="1"/>
<rect x="66.26" y="297.47" width="3.7" height="3.7" fill="none" stroke="#222" stroke-width="1"/>
<rect x="69.88" y="297.47" width="3.7" height="3.7" fill="none" stroke="#222" stroke-width="1"/>
<rect x="74.15" y="297.47" width="3.7" height="3.7" fill="none" stroke="#222" stroke-width="1"/>
<rect x="44.4" y="294.07" width="3.7" height="3.7" fill="none" stroke="#222" stroke-width="1"/>
<rect x="48.87" y="294.07" width="3.7" height="3.7" fill="none" stroke="#222" stroke-width="1"/>
<rect x="57.08" y="294.07" width="3.7" height="3.7" fill="none" stroke="#222" stroke-width="1"/>
<rect x="61.31" y="294.07" width="3.7" height="3.7" fill="none" stroke="#222" stroke-width="1"/>
<rect x="66.25" y="294.07" width="3.7" height="3.7" fill="none" stroke="#222" stroke-width="1"/>
<rect x="69.61" y="294.07" width="3.7" height="3.7" fill="none" stroke="#222" stroke-width="1"/>
<rect x="74.15" y="294.07" width="3.7" height="3.7" fill="none" stroke="#222" stroke-width="1"/>
<rect x="88.15" y="294.07" width="3.7" height="3.7" fill="none" stroke="#222" stroke-width="1"/>
<rect x="45.15" y="290.68" width="3.7" height="3.7" fill="none" stroke="#222" stroke-width="1"/>
<rect x="49.52" y="290.68" width="3.7" height="3.7" fill="none" stroke="#222" stroke-width="1"/>
<rect x="58.23" y="290.68" width="3.7" height="3.7" fill="none" stroke="#222" stroke-width="1"/>
<rect x="67.79" y="290.68" width="3.7" height="3.7" fill="none" stroke="#222" stroke-width="1"/>
<rect x="73.44" y="290.68" width="3.7" height="3.7" fill="none" stroke="#222" stroke-width="1"/>
<rect x="77.15" y="290.68" width="3.7" height="3.7" fill="none" stroke="#222" stroke-width="1"/>
<rect x="50.34" y="287.29" width="3.7" height="3.7" fill="none" stroke="#222" stroke-width="1"/>
<rect x="54.9" y="287.29" width="3.7" height="3.7" fill="none" stroke="#222" stroke-width="1"/>
<rect x="59.47" y="287.29" width="3.7" height="3.7" fill="none" stroke="#222" stroke-width="1"/>
<rect x="63.02" y="287.29" width="3.7" height="3.7" fill="none" stroke="#222" stroke-width="1"/>
<rect x="68.04" y="287.29" width="3.7" height="3.7" fill="none" stroke="#222" stroke-width="1"/>
<rect x="72.18" y="287.29" width="3.7" height="3.7" fill="none" stroke="#222" stroke-width="1"/>
<rect x="76.97" y="287.29" width="3.7" height="3.7" fill="none" stroke="#222" stroke-width="1"/>
<rect x="80.92" y="287.29" width="3.7" height="3.7" fill="none" stroke="#222" stroke-width="1"/>
<rect x="86.15" y="287.29" width="3.7" height="3.7" fill="none" stroke="#222" stroke-width="1"/>
<rect x="50.15" y="283.9" width="3.7" height="3.7" fill="none" stroke="#222" stroke-width="1"/>
<rect x="55.01" y="283.9" width="3.7" height="3.7" fill="none" stroke="#222" stroke-width="1"/>
<rect x="58.9" y="283.9" width="3.7" height="3.7" fill="none" stroke="#222" stroke-width="1"/>
<rect x="64.49" y="283.9" width="3.7" height="3.7" fill="none" stroke="#222" stroke-width="1"/>
<rect x="68.66" y="283.9" width="3.7" height="3.7" fill="none" stroke="#222" stroke-width="1"/>
<rect x="72.26" y="283.9" width="3.7" height="3.7" fill="none" stroke="#222" stroke-width="1"/>
<rect x="78.1" y="283.9" width="3.7" height="3.7" fill="none" stroke="#222" stroke-width="1"/>
<rect x="82.84" y="283.9" width="3.7" height="3.7" fill="none" stroke="#222" stroke-width="1"/>
<rect x="91.15" y="283.9" width="3.7" height="3.7" fill="none" stroke="#222" stroke-width="1"/>
<rect x="60.15" y="280.51" width="3.7" height="3.7" fill="none" stroke="#222" stroke-width="1"/>
<rect x="64.31" y="280.51" width="3.7" height="3.7" fill="none" stroke="#222" stroke-width="1"/>
<rect x="74.39" y="280.51" width="3.7" height="3.7" fill="none" stroke="#222" stroke-width="1"/>
<rect x="78.43" y="280.51" width="3.7" height="3.7" fill="none" stroke="#222" stroke-width="1"/>
<rect x="84.41" y="280.51" width="3.7" height="3.7" fill="none" stroke="#222" stroke-width="1"/>
<rect x="88.69" y="280.51" width="3.7" height="3.7" fill="none" stroke="#222" stroke-width="1"/>
<rect x="93.15" y="280.51" width="3.7" height="3.7" fill="none" stroke="#222" stroke-width="1"/>
<rect x="106.15" y="280.51" width="3.7" height="3.7" fill="none" stroke="#222" stroke-width="1"/>
<rect x="63.15" y="277.12" width="3.7" height="3.7" fill="none" stroke="#222" stroke-width="1"/>
<rect x="67.7" y="277.12" width="3.7" height="3.7" fill="none" stroke="#222" stroke-width="1"/>
<rect x="72.11" y="277.12" width="3.7" height="3.7" fill="none" stroke="#222" stroke-width="1"/>
<rect x="76.46" y="277.12" width="3.7" height="3.7" fill="none" stroke="#222" stroke-width="1"/>
<rect x="82.68" y="277.12" width="3.7" height="3.7" fill="none" stroke="#222" stroke-width="1"/>
<rect x="86.66" y="277.12" width="3.7" height="3.7" fill="none" stroke="#222" stroke-width="1"/>
<rect x="91.52" y="277.12" width="3.7" height="3.7" fill="none" stroke="#222" stroke-width="1"/>
<rect x="95.83" y="277.12" width="3.7" height="3.7" fill="none" stroke="#222" stroke-width="1"/>
<rect x="102.15" y="277.12" width="3.7" height="3.7" fill="none" stroke="#222" stroke-width="1"/>
<rect x="68.6" y="273.73" width="3.7" height="3.7" fill="none" stroke="#222" stroke-width="1"/>
<rect x="71.87" y="273.73" width="3.7" height="3.7" fill="none" stroke="#222" stroke-width="1"/>
<rect x="77.06" y="273.73" width="3.7" height="3.7" fill="none" stroke="#222" stroke-width="1"/>
<rect x="81.02" y="273.73" width="3.7" height="3.7" fill="none" stroke="#222" stroke-width="1"/>
<rect x="85.76" y="273.73" width="3.7" height="3.7" fill="none" stroke="#222" stroke-width="1"/>
<rect x="91.85" y="273.73" width="3.7" height="3.7" fill="none" stroke="#222" stroke-width="1"/>
<rect x="95.86" y="273.73" width="3.7" height="3.7" fill="none" stroke="#222" stroke-width="1"/>
<rect x="100.02" y="273.73" width="3.7" height="3.7" fill="none" stroke="#222" stroke-width="1"/>
<rect x="59.15" y="270.34" width="3.7" height="3.7" fill="none" stroke="#222" stroke-width="1"/>
<rect x="73.19" y="270.34" width="3.7" height="3.7" fill="none" stroke="#222" stroke-width="1"/>
<rect x="78.25" y="270.34" width="3.7" height="3.7" fill="none" stroke="#222" stroke-width="1"/>
<rect x="81.73" y="270.34" width="3.7" height="3.7" fill="none" stroke="#222" stroke-width="1"/>
<rect x="86.6" y="270.34" width="3.7" height="3.7" fill="none" stroke="#222" stroke-width="1"/>
<rect x="91.19" y="270.34" width="3.7" height="3.7" fill="none" stroke="#222" stroke-width="1"/>
<rect x="95.03" y="270.34" width="3.7" height="3.7" fill="none" stroke="#222" stroke-width="1"/>
<rect x="99.76" y="270.34" width="3.7" height="3.7" fill="none" stroke="#222" stroke-width="1"/>
<rect x="104.15" y="270.34" width="3.7" height="3.7" fill="none" stroke="#222" stroke-width="1"/>
<rect x="106.15" y="270.34" width="3.7" height="3.7" fill="none" stroke="#222" stroke-width="1"/>
<rect x="73.89" y="266.95" width="3.7" height="3.7" fill="none" stroke="#222" stroke-width="1"/>
<rect x="77.02" y="266.95" width="3.7" height="3.7" fill="none" stroke="#222" stroke-width="1"/>
<rect x="82.93" y="266.95" width="3.7" height="3.7" fill="none" stroke="#222" stroke-width="1"/>
<rect x="85.76" y="266.95" width="3.7" height="3.7" fill="none" stroke="#222" stroke-width="1"/>
<rect x="91.61" y="266.95" width="3.7" height="3.7" fill="none" stroke="#222" stroke-width="1"/>
<rect x="96.21" y="266.95" width="3.7" height="3.7" fill="none" stroke="#222" stroke-width="1"/>
<rect x="99.5" y="266.95" width="3.7" height="3.7" fill="none" stroke="#222" stroke-width="1"/>
<rect x="104.5" y="266.95" width="3.7" height="3.7" fill="none" stroke="#222" stroke-width="1"/>
<rect x="109.72" y="266.95" width="3.7" height="3.7" fill="none" stroke="#222" stroke-width="1"/>
<rect x="112.78" y="266.95" width="3.7" height="3.7" fill="none" stroke="#222" stroke-width="1"/>
<rect x="118.15" y="266.95" width="3.7" height="3.7" fill="none" stroke="#222" stroke-width="1"/>
<rect x="128.15" y="266.95" width="3.7" height="3.7" fill="none" stroke="#222" stroke-width="1"/>
<rect x="80.68" y="263.55" width="3.7" height="3.7" fill="none" stroke="#222" stroke-width="1"/>
<rect x="84.73" y="263.55" width="3.7" height="3.7" fill="none" stroke="#222" stroke-width="1"/>
<rect x="89.67" y="263.55" width="3.7" height="3.7" fill="none" stroke="#222" stroke-width="1"/>
<rect x="93.32" y="263.55" width="3.7" height="3.7" fill="none" stroke="#222" stroke-width="1"/>
<rect x="97.83" y="263.55" width="3.7" height="3.7" fill="none" stroke="#222" stroke-width="1"/>
<rect x="102.68" y="263.55" width="3.7" height="3.7" fill="none" stroke="#222" stroke-width="1"/>
<rect x="106.91" y="263.55" width="3.7" height="3.7" fill="none" stroke="#222" stroke-width="1"/>
<rect x="117.4" y="263.55" width="3.7" height="3.7" fill="none" stroke="#222" stroke-width="1"/>
<rect x="121.15" y="263.55" width="3.7" height="3.7" fill="none" stroke="#222" stroke-width="1"/>
<rect x="69.15" y="260.16" width="3.7" height="3.7" fill="none" stroke="#222" stroke-width="1"/>
<rect x="82.15" y="260.16" width="3.7" height="3.7" fill="none" stroke="#222" stroke-width="1"/>
<rect x="86.6" y="260.16" width="3.7" height="3.7" fill="none" stroke="#222" stroke-width="1"/>
<rect x="92.68" y="260.16" width="3.7" height="3.7" fill="none" stroke="#222" stroke-width="1"/>
<rect x="96.62" y="260.16" width="3.7" height="3.7" fill="none" stroke="#222" stroke-width="1"/>
<rect x="102.44" y="260.16" width="3.7" height="3.7" fill="none" stroke="#222" stroke-width="1"/>
<rect x="106.46" y="260.16" width="3.7" height="3.7" fill="none" stroke="#222" stroke-width="1"/>
<rect x="111.33" y="260.16" width="3.7" height="3.7" fill="none" stroke="#222" stroke-width="1"/>
<rect x="116.15" y="260.16" width="3.7" height="3.7" fill="none" stroke="#222" stroke-width="1"/>
<rect x="126.85" y="260.16" width="3.7" height="3.7" fill="none" stroke="#222" stroke-width="1"/>
<rect x="83.59" y="256.77" width="3.7" height="3.7" fill="none" stroke="#222" stroke-width="1"/>
<rect x="88.01" y="256.77" width="3.7" height="3.7" fill="none" stroke="#222" stroke-width="1"/>
<rect x="92.45" y="256.77" width="3.7" height="3.7" fill="none" stroke="#222" stroke-width="1"/>
<rect x="97.97" y="256.77" width="3.7" height="3.7" fill="none" stroke="#222" stroke-width="1"/>
<rect x="107.48" y="256.77" width="3.7" height="3.7" fill="none" stroke="#222" stroke-width="1"/>
<rect x="110.66" y="256.77" width="3.7" height="3.7" fill="none" stroke="#222" stroke-width="1"/>
<rect x="116.02" y="256.77" width="3.7" height="3.7" fill="none" stroke="#222" stroke-width="1"/>
<rect x="124.75" y="256.77" width="3.7" height="3.7" fill="none" stroke="#222" stroke-width="1"/>
<rect x="128.35" y="256.77" width="3.7" height="3.7" fill="none" stroke="#222" stroke-width="1"/>
<rect x="86.15" y="253.38" width="3.7" height="3.7" fill="none" stroke="#222" stroke-width="1"/>
<rect x="103.15" y="253.38" width="3.7" height="3.7" fill="none" stroke="#222" stroke-width="1"/>
<rect x="122.65" y="253.38" width="3.7" height="3.7" fill="none" stroke="#222" stroke-width="1"/>
<rect x="112.55" y="249.99" width="3.7" height="3.7" fill="none" stroke="#222" stroke-width="1"/>
<rect x="116.85" y="249.99" width="3.7" height="3.7" fill="none" stroke="#222" stroke-width="1"/>
<rect x="121.65" y="249.99" width="3.7" height="3.7" fill="none" stroke="#222" stroke-width="1"/>
<rect x="135.55" y="249.99" width="3.7" height="3.7" fill="none" stroke="#222" stroke-width="1"/>
<rect x="139.15" y="249.99" width="3.7" height="3.7" fill="none" stroke="#222" stroke-width="1"/>
<rect x="117.55" y="246.6" width="3.7" height="3.7" fill="none" stroke="#222" stroke-width="1"/>
<rect x="127.65" y="246.6" width="3.7" height="3.7" fill="none" stroke="#222" stroke-width="1"/>
<rect x="132.65" y="246.6" width="3.7" height="3.7" fill="none" stroke="#222" stroke-width="1"/>
<rect x="111.15" y="243.21" width="3.7" height="3.7" fill="none" stroke="#222" stroke-width="1"/>
<rect x="124.75" y="243.21" width="3.7" height="3.7" fill="none" stroke="#222" stroke-width="1"/>
<rect x="131.95" y="243.21" width="3.7" height="3.7" fill="none" stroke="#222" stroke-width="1"/>
<rect x="154.25" y="243.21" width="3.7" height="3.7" fill="none" stroke="#222" stroke-width="1"/>
<rect x="123.25" y="239.82" width="3.7" height="3.7" fill="none" stroke="#222" stroke-width="1"/>
<rect x="131.95" y="239.82" width="3.7" height="3.7" fill="none" stroke="#222" stroke-width="1"/>
<rect x="114.65" y="236.43" width="3.7" height="3.7" fill="none" stroke="#222" stroke-width="1"/>
<rect x="137.65" y="236.43" width="3.7" height="3.7" fill="none" stroke="#222" stroke-width="1"/>
<rect x="144.85" y="233.03" width="3.7" height="3.7" fill="none" stroke="#222" stroke-width="1"/>
<rect x="158.55" y="233.03" width="3.7" height="3.7" fill="none" stroke="#222" stroke-width="1"/>
<rect x="128.55" y="229.64" width="3.7" height="3.7" fill="none" stroke="#222" stroke-width="1"/>
<rect x="152.75" y="229.64" width="3.7" height="3.7" fill="none" stroke="#222" stroke-width="1"/>
<rect x="175.65" y="229.64" width="3.7" height="3.7" fill="none" stroke="#222" stroke-width="1"/>
<rect x="127.45" y="226.25" width="3.7" height="3.7" fill="none" stroke="#222" stroke-width="1"/>
<rect x="151.75" y="226.25" width="3.7" height="3.7" fill="none" stroke="#222" stroke-width="1"/>
<rect x="127.65" y="222.86" width="3.7" height="3.7" fill="none" stroke="#222" stroke-width="1"/>
<rect x="169.25" y="222.86" width="3.7" height="3.7" fill="none" stroke="#222" stroke-width="1"/>
<rect x="127.65" y="212.69" width="3.7" height="3.7" fill="none" stroke="#222" stroke-width="1"/>
<rect x="160.65" y="212.69" width="3.7" height="3.7" fill="none" stroke="#222" stroke-width="1"/>
<rect x="171.45" y="212.69" width="3.7" height="3.7" fill="none" stroke="#222" stroke-width="1"/>
<rect x="163.75" y="209.3" width="3.7" height="3.7" fill="none" stroke="#222" stroke-width="1"/>
<rect x="148.65" y="205.91" width="3.7" height="3.7" fill="none" stroke="#222" stroke-width="1"/>
<rect x="169.25" y="199.12" width="3.7" height="3.7" fill="none" stroke="#222" stroke-width="1"/>
</g>
<line x1="37.7" y1="318.64" x2="177.82" y2="206.74" stroke="#111" stroke-width="1.4"/>
<line x1="79.28" y1="343.4" x2="79.28" y2="190.8" stroke="#b8b8ff" stroke-width="1"/>
<line x1="79.28" y1="343.4" x2="79.28" y2="190.8" stroke="#3535ff" stroke-width="1" stroke-dasharray="1,1"/>
<line x1="37.7" y1="285.41" x2="79.28" y2="285.41" stroke="#b8b8ff" stroke-width="1"/>
<line x1="37.7" y1="285.41" x2="79.28" y2="285.41" stroke="#3535ff" stroke-width="1" stroke-dasharray="1,1"/>
<rect x="37.7" y="190.8" width="207.9" height="152.6" fill="none" stroke="#666" stroke-width="1.1"/>
<line x1="37.7" y1="343.4" x2="37.7" y2="340.2" stroke="#666" stroke-width="1"/>
<line x1="79.28" y1="343.4" x2="79.28" y2="340.2" stroke="#666" stroke-width="1"/>
<line x1="120.86" y1="343.4" x2="120.86" y2="340.2" stroke="#666" stroke-width="1"/>
<line x1="162.44" y1="343.4" x2="162.44" y2="340.2" stroke="#666" stroke-width="1"/>
<line x1="204.02" y1="343.4" x2="204.02" y2="340.2" stroke="#666" stroke-width="1"/>
<line x1="245.6" y1="343.4" x2="245.6" y2="340.2" stroke="#666" stroke-width="1"/>
<line x1="58.49" y1="343.4" x2="58.49" y2="341.6" stroke="#666" stroke-width="1"/>
<line x1="100.07" y1="343.4" x2="100.07" y2="341.6" stroke="#666" stroke-width="1"/>
<line x1="141.65" y1="343.4" x2="141.65" y2="341.6" stroke="#666" stroke-width="1"/>
<line x1="183.23" y1="343.4" x2="183.23" y2="341.6" stroke="#666" stroke-width="1"/>
<line x1="224.81" y1="343.4" x2="224.81" y2="341.6" stroke="#666" stroke-width="1"/>
<text x="37.7" y="355.6" font-size="9.6" text-anchor="middle" font-weight="normal" font-style="normal" fill="#222" stroke="#222" stroke-width="0.32" >0</text>
<text x="79.28" y="355.6" font-size="9.6" text-anchor="middle" font-weight="normal" font-style="normal" fill="#222" stroke="#222" stroke-width="0.32" >1</text>
<text x="120.86" y="355.6" font-size="9.6" text-anchor="middle" font-weight="normal" font-style="normal" fill="#222" stroke="#222" stroke-width="0.32" >2</text>
<text x="162.44" y="355.6" font-size="9.6" text-anchor="middle" font-weight="normal" font-style="normal" fill="#222" stroke="#222" stroke-width="0.32" >3</text>
<text x="204.02" y="355.6" font-size="9.6" text-anchor="middle" font-weight="normal" font-style="normal" fill="#222" stroke="#222" stroke-width="0.32" >4</text>
<text x="245.6" y="355.6" font-size="9.6" text-anchor="middle" font-weight="normal" font-style="normal" fill="#222" stroke="#222" stroke-width="0.32" >5</text>
<line x1="37.7" y1="343.4" x2="40.9" y2="343.4" stroke="#666" stroke-width="1"/>
<line x1="37.7" y1="326.44" x2="40.9" y2="326.44" stroke="#666" stroke-width="1"/>
<line x1="37.7" y1="309.49" x2="40.9" y2="309.49" stroke="#666" stroke-width="1"/>
<line x1="37.7" y1="292.53" x2="40.9" y2="292.53" stroke="#666" stroke-width="1"/>
<line x1="37.7" y1="275.58" x2="40.9" y2="275.58" stroke="#666" stroke-width="1"/>
<line x1="37.7" y1="258.62" x2="40.9" y2="258.62" stroke="#666" stroke-width="1"/>
<line x1="37.7" y1="241.67" x2="40.9" y2="241.67" stroke="#666" stroke-width="1"/>
<line x1="37.7" y1="224.71" x2="40.9" y2="224.71" stroke="#666" stroke-width="1"/>
<line x1="37.7" y1="207.76" x2="40.9" y2="207.76" stroke="#666" stroke-width="1"/>
<line x1="37.7" y1="190.8" x2="40.9" y2="190.8" stroke="#666" stroke-width="1"/>
<line x1="37.7" y1="334.92" x2="39.5" y2="334.92" stroke="#666" stroke-width="1"/>
<line x1="37.7" y1="317.97" x2="39.5" y2="317.97" stroke="#666" stroke-width="1"/>
<line x1="37.7" y1="301.01" x2="39.5" y2="301.01" stroke="#666" stroke-width="1"/>
<line x1="37.7" y1="284.06" x2="39.5" y2="284.06" stroke="#666" stroke-width="1"/>
<line x1="37.7" y1="267.1" x2="39.5" y2="267.1" stroke="#666" stroke-width="1"/>
<line x1="37.7" y1="250.14" x2="39.5" y2="250.14" stroke="#666" stroke-width="1"/>
<line x1="37.7" y1="233.19" x2="39.5" y2="233.19" stroke="#666" stroke-width="1"/>
<line x1="37.7" y1="216.23" x2="39.5" y2="216.23" stroke="#666" stroke-width="1"/>
<line x1="37.7" y1="199.28" x2="39.5" y2="199.28" stroke="#666" stroke-width="1"/>
<text x="34.2" y="346.7" font-size="9.6" text-anchor="end" font-weight="normal" font-style="normal" fill="#222" stroke="#222" stroke-width="0.32" >0</text>
<text x="34.2" y="329.74" font-size="9.6" text-anchor="end" font-weight="normal" font-style="normal" fill="#222" stroke="#222" stroke-width="0.32" >5</text>
<text x="34.2" y="312.79" font-size="9.6" text-anchor="end" font-weight="normal" font-style="normal" fill="#222" stroke="#222" stroke-width="0.32" >10</text>
<text x="34.2" y="295.83" font-size="9.6" text-anchor="end" font-weight="normal" font-style="normal" fill="#222" stroke="#222" stroke-width="0.32" >15</text>
<text x="34.2" y="278.88" font-size="9.6" text-anchor="end" font-weight="normal" font-style="normal" fill="#222" stroke="#222" stroke-width="0.32" >20</text>
<text x="34.2" y="261.92" font-size="9.6" text-anchor="end" font-weight="normal" font-style="normal" fill="#222" stroke="#222" stroke-width="0.32" >25</text>
<text x="34.2" y="244.97" font-size="9.6" text-anchor="end" font-weight="normal" font-style="normal" fill="#222" stroke="#222" stroke-width="0.32" >30</text>
<text x="34.2" y="228.01" font-size="9.6" text-anchor="end" font-weight="normal" font-style="normal" fill="#222" stroke="#222" stroke-width="0.32" >35</text>
<text x="34.2" y="211.06" font-size="9.6" text-anchor="end" font-weight="normal" font-style="normal" fill="#222" stroke="#222" stroke-width="0.32" >40</text>
<text x="34.2" y="194.1" font-size="9.6" text-anchor="end" font-weight="normal" font-style="normal" fill="#222" stroke="#222" stroke-width="0.32" >45</text>
<rect x="121.35" y="317.25" width="3.7" height="3.7" fill="none" stroke="#222" stroke-width="1"/>
<line x1="110.9" y1="331.9" x2="134.9" y2="331.9" stroke="#111" stroke-width="1.4"/>
<text x="138.2" y="322.8" font-size="10.25" text-anchor="start" font-weight="normal" font-style="normal" fill="#222" stroke="#222" stroke-width="0.32" >Austenitized for 30 °C/s</text>
<text x="138.2" y="335.9" font-size="10.25" text-anchor="start" font-weight="normal" font-style="normal" fill="#222" stroke="#222" stroke-width="0.32" >Linear fitting results</text>
<text x="2.9" y="194.8" font-size="14" text-anchor="start" font-weight="bold" font-style="normal" fill="#111" stroke="#111" stroke-width="0.32" >(c)</text>
<text x="0" y="0" font-size="10.5" fill="#333" font-style="italic" transform="translate(18.0 279.5) rotate(-90)">n<tspan font-size="7" dy="2.5">F</tspan></text>
<text x="122.3" y="375.4" font-size="11.2" fill="#333" stroke="#333" stroke-width="0.2">(<tspan font-style="italic">V</tspan><tspan font-size="7" dy="3" font-style="italic">g</tspan><tspan dy="-3">/</tspan><tspan font-style="italic">V</tspan><tspan font-size="7" dy="3" font-style="italic">g</tspan><tspan font-size="6" dy="-9.0" font-style="italic" dx="-3.6">a</tspan><tspan dy="6.0" dx="0.4">)</tspan><tspan font-size="5.9" dy="-6.9" dx="0.3">2/3</tspan></text>
<clipPath id="cd"><rect x="336.8" y="190.8" width="207.4" height="152.3"/></clipPath><g clip-path="url(#cd)">
<circle cx="338.3" cy="336.33" r="2.4" fill="none" stroke="#f80808" stroke-width="1"/>
<circle cx="339.15" cy="332.95" r="2.4" fill="none" stroke="#f80808" stroke-width="1"/>
<circle cx="338.34" cy="329.56" r="2.4" fill="none" stroke="#f80808" stroke-width="1"/>
<circle cx="342.5" cy="329.56" r="2.4" fill="none" stroke="#f80808" stroke-width="1"/>
<circle cx="338.3" cy="326.18" r="2.4" fill="none" stroke="#f80808" stroke-width="1"/>
<circle cx="344" cy="326.18" r="2.4" fill="none" stroke="#f80808" stroke-width="1"/>
<circle cx="338.62" cy="322.79" r="2.4" fill="none" stroke="#f80808" stroke-width="1"/>
<circle cx="342.29" cy="322.79" r="2.4" fill="none" stroke="#f80808" stroke-width="1"/>
<circle cx="345.5" cy="322.79" r="2.4" fill="none" stroke="#f80808" stroke-width="1"/>
<circle cx="339.15" cy="319.41" r="2.4" fill="none" stroke="#f80808" stroke-width="1"/>
<circle cx="342.57" cy="319.41" r="2.4" fill="none" stroke="#f80808" stroke-width="1"/>
<circle cx="347.25" cy="319.41" r="2.4" fill="none" stroke="#f80808" stroke-width="1"/>
<circle cx="351.47" cy="319.41" r="2.4" fill="none" stroke="#f80808" stroke-width="1"/>
<circle cx="362" cy="319.41" r="2.4" fill="none" stroke="#f80808" stroke-width="1"/>
<circle cx="338.3" cy="316.02" r="2.4" fill="none" stroke="#f80808" stroke-width="1"/>
<circle cx="347.33" cy="316.02" r="2.4" fill="none" stroke="#f80808" stroke-width="1"/>
<circle cx="351.33" cy="316.02" r="2.4" fill="none" stroke="#f80808" stroke-width="1"/>
<circle cx="359" cy="316.02" r="2.4" fill="none" stroke="#f80808" stroke-width="1"/>
<circle cx="338.3" cy="312.64" r="2.4" fill="none" stroke="#f80808" stroke-width="1"/>
<circle cx="347.07" cy="312.64" r="2.4" fill="none" stroke="#f80808" stroke-width="1"/>
<circle cx="359.45" cy="312.64" r="2.4" fill="none" stroke="#f80808" stroke-width="1"/>
<circle cx="363.99" cy="312.64" r="2.4" fill="none" stroke="#f80808" stroke-width="1"/>
<circle cx="368" cy="312.64" r="2.4" fill="none" stroke="#f80808" stroke-width="1"/>
<circle cx="341" cy="309.26" r="2.4" fill="none" stroke="#f80808" stroke-width="1"/>
<circle cx="344.34" cy="309.26" r="2.4" fill="none" stroke="#f80808" stroke-width="1"/>
<circle cx="349.09" cy="309.26" r="2.4" fill="none" stroke="#f80808" stroke-width="1"/>
<circle cx="353.85" cy="309.26" r="2.4" fill="none" stroke="#f80808" stroke-width="1"/>
<circle cx="358.07" cy="309.26" r="2.4" fill="none" stroke="#f80808" stroke-width="1"/>
<circle cx="365.05" cy="309.26" r="2.4" fill="none" stroke="#f80808" stroke-width="1"/>
<circle cx="370.62" cy="309.26" r="2.4" fill="none" stroke="#f80808" stroke-width="1"/>
<circle cx="374" cy="309.26" r="2.4" fill="none" stroke="#f80808" stroke-width="1"/>
<circle cx="381" cy="309.26" r="2.4" fill="none" stroke="#f80808" stroke-width="1"/>
<circle cx="341.68" cy="305.87" r="2.4" fill="none" stroke="#f80808" stroke-width="1"/>
<circle cx="345.15" cy="305.87" r="2.4" fill="none" stroke="#f80808" stroke-width="1"/>
<circle cx="349.97" cy="305.87" r="2.4" fill="none" stroke="#f80808" stroke-width="1"/>
<circle cx="352.52" cy="305.87" r="2.4" fill="none" stroke="#f80808" stroke-width="1"/>
<circle cx="356.6" cy="305.87" r="2.4" fill="none" stroke="#f80808" stroke-width="1"/>
<circle cx="360.69" cy="305.87" r="2.4" fill="none" stroke="#f80808" stroke-width="1"/>
<circle cx="365.22" cy="305.87" r="2.4" fill="none" stroke="#f80808" stroke-width="1"/>
<circle cx="369.33" cy="305.87" r="2.4" fill="none" stroke="#f80808" stroke-width="1"/>
<circle cx="373.33" cy="305.87" r="2.4" fill="none" stroke="#f80808" stroke-width="1"/>
<circle cx="378" cy="305.87" r="2.4" fill="none" stroke="#f80808" stroke-width="1"/>
<circle cx="344" cy="302.49" r="2.4" fill="none" stroke="#f80808" stroke-width="1"/>
<circle cx="348.61" cy="302.49" r="2.4" fill="none" stroke="#f80808" stroke-width="1"/>
<circle cx="352.29" cy="302.49" r="2.4" fill="none" stroke="#f80808" stroke-width="1"/>
<circle cx="357.65" cy="302.49" r="2.4" fill="none" stroke="#f80808" stroke-width="1"/>
<circle cx="360.92" cy="302.49" r="2.4" fill="none" stroke="#f80808" stroke-width="1"/>
<circle cx="371.46" cy="302.49" r="2.4" fill="none" stroke="#f80808" stroke-width="1"/>
<circle cx="375.18" cy="302.49" r="2.4" fill="none" stroke="#f80808" stroke-width="1"/>
<circle cx="384" cy="302.49" r="2.4" fill="none" stroke="#f80808" stroke-width="1"/>
<circle cx="389.7" cy="302.49" r="2.4" fill="none" stroke="#f80808" stroke-width="1"/>
<circle cx="343.2" cy="299.1" r="2.4" fill="none" stroke="#f80808" stroke-width="1"/>
<circle cx="346.78" cy="299.1" r="2.4" fill="none" stroke="#f80808" stroke-width="1"/>
<circle cx="351.8" cy="299.1" r="2.4" fill="none" stroke="#f80808" stroke-width="1"/>
<circle cx="360.88" cy="299.1" r="2.4" fill="none" stroke="#f80808" stroke-width="1"/>
<circle cx="365.49" cy="299.1" r="2.4" fill="none" stroke="#f80808" stroke-width="1"/>
<circle cx="369.64" cy="299.1" r="2.4" fill="none" stroke="#f80808" stroke-width="1"/>
<circle cx="372.52" cy="299.1" r="2.4" fill="none" stroke="#f80808" stroke-width="1"/>
<circle cx="381.67" cy="299.1" r="2.4" fill="none" stroke="#f80808" stroke-width="1"/>
<circle cx="385.64" cy="299.1" r="2.4" fill="none" stroke="#f80808" stroke-width="1"/>
<circle cx="390.89" cy="299.1" r="2.4" fill="none" stroke="#f80808" stroke-width="1"/>
<circle cx="395" cy="299.1" r="2.4" fill="none" stroke="#f80808" stroke-width="1"/>
<circle cx="352" cy="295.72" r="2.4" fill="none" stroke="#f80808" stroke-width="1"/>
<circle cx="357.13" cy="295.72" r="2.4" fill="none" stroke="#f80808" stroke-width="1"/>
<circle cx="361.48" cy="295.72" r="2.4" fill="none" stroke="#f80808" stroke-width="1"/>
<circle cx="364.76" cy="295.72" r="2.4" fill="none" stroke="#f80808" stroke-width="1"/>
<circle cx="375.06" cy="295.72" r="2.4" fill="none" stroke="#f80808" stroke-width="1"/>
<circle cx="378.31" cy="295.72" r="2.4" fill="none" stroke="#f80808" stroke-width="1"/>
<circle cx="383.46" cy="295.72" r="2.4" fill="none" stroke="#f80808" stroke-width="1"/>
<circle cx="388.05" cy="295.72" r="2.4" fill="none" stroke="#f80808" stroke-width="1"/>
<circle cx="401.52" cy="295.72" r="2.4" fill="none" stroke="#f80808" stroke-width="1"/>
<circle cx="405.7" cy="295.72" r="2.4" fill="none" stroke="#f80808" stroke-width="1"/>
<circle cx="359.58" cy="292.33" r="2.4" fill="none" stroke="#f80808" stroke-width="1"/>
<circle cx="363.68" cy="292.33" r="2.4" fill="none" stroke="#f80808" stroke-width="1"/>
<circle cx="366.97" cy="292.33" r="2.4" fill="none" stroke="#f80808" stroke-width="1"/>
<circle cx="371.82" cy="292.33" r="2.4" fill="none" stroke="#f80808" stroke-width="1"/>
<circle cx="380.4" cy="292.33" r="2.4" fill="none" stroke="#f80808" stroke-width="1"/>
<circle cx="387.12" cy="292.33" r="2.4" fill="none" stroke="#f80808" stroke-width="1"/>
<circle cx="392.38" cy="292.33" r="2.4" fill="none" stroke="#f80808" stroke-width="1"/>
<circle cx="400.5" cy="292.33" r="2.4" fill="none" stroke="#f80808" stroke-width="1"/>
<circle cx="405.32" cy="292.33" r="2.4" fill="none" stroke="#f80808" stroke-width="1"/>
<circle cx="412.35" cy="292.33" r="2.4" fill="none" stroke="#f80808" stroke-width="1"/>
<circle cx="353" cy="288.95" r="2.4" fill="none" stroke="#f80808" stroke-width="1"/>
<circle cx="357.62" cy="288.95" r="2.4" fill="none" stroke="#f80808" stroke-width="1"/>
<circle cx="360.95" cy="288.95" r="2.4" fill="none" stroke="#f80808" stroke-width="1"/>
<circle cx="369.67" cy="288.95" r="2.4" fill="none" stroke="#f80808" stroke-width="1"/>
<circle cx="374.96" cy="288.95" r="2.4" fill="none" stroke="#f80808" stroke-width="1"/>
<circle cx="387.44" cy="288.95" r="2.4" fill="none" stroke="#f80808" stroke-width="1"/>
<circle cx="392.07" cy="288.95" r="2.4" fill="none" stroke="#f80808" stroke-width="1"/>
<circle cx="395.82" cy="288.95" r="2.4" fill="none" stroke="#f80808" stroke-width="1"/>
<circle cx="400.21" cy="288.95" r="2.4" fill="none" stroke="#f80808" stroke-width="1"/>
<circle cx="404.69" cy="288.95" r="2.4" fill="none" stroke="#f80808" stroke-width="1"/>
<circle cx="409.26" cy="288.95" r="2.4" fill="none" stroke="#f80808" stroke-width="1"/>
<circle cx="412.91" cy="288.95" r="2.4" fill="none" stroke="#f80808" stroke-width="1"/>
<circle cx="418" cy="288.95" r="2.4" fill="none" stroke="#f80808" stroke-width="1"/>
<circle cx="364.14" cy="285.56" r="2.4" fill="none" stroke="#f80808" stroke-width="1"/>
<circle cx="367.99" cy="285.56" r="2.4" fill="none" stroke="#f80808" stroke-width="1"/>
<circle cx="371.95" cy="285.56" r="2.4" fill="none" stroke="#f80808" stroke-width="1"/>
<circle cx="377.53" cy="285.56" r="2.4" fill="none" stroke="#f80808" stroke-width="1"/>
<circle cx="380.75" cy="285.56" r="2.4" fill="none" stroke="#f80808" stroke-width="1"/>
<circle cx="385.1" cy="285.56" r="2.4" fill="none" stroke="#f80808" stroke-width="1"/>
<circle cx="389.45" cy="285.56" r="2.4" fill="none" stroke="#f80808" stroke-width="1"/>
<circle cx="402.76" cy="285.56" r="2.4" fill="none" stroke="#f80808" stroke-width="1"/>
<circle cx="407.18" cy="285.56" r="2.4" fill="none" stroke="#f80808" stroke-width="1"/>
<circle cx="412.48" cy="285.56" r="2.4" fill="none" stroke="#f80808" stroke-width="1"/>
<circle cx="416.45" cy="285.56" r="2.4" fill="none" stroke="#f80808" stroke-width="1"/>
<circle cx="420.03" cy="285.56" r="2.4" fill="none" stroke="#f80808" stroke-width="1"/>
<circle cx="424.82" cy="285.56" r="2.4" fill="none" stroke="#f80808" stroke-width="1"/>
<circle cx="429.99" cy="285.56" r="2.4" fill="none" stroke="#f80808" stroke-width="1"/>
<circle cx="433.42" cy="285.56" r="2.4" fill="none" stroke="#f80808" stroke-width="1"/>
<circle cx="438" cy="285.56" r="2.4" fill="none" stroke="#f80808" stroke-width="1"/>
<circle cx="367" cy="282.18" r="2.4" fill="none" stroke="#f80808" stroke-width="1"/>
<circle cx="371.6" cy="282.18" r="2.4" fill="none" stroke="#f80808" stroke-width="1"/>
<circle cx="380.15" cy="282.18" r="2.4" fill="none" stroke="#f80808" stroke-width="1"/>
<circle cx="387.7" cy="282.18" r="2.4" fill="none" stroke="#f80808" stroke-width="1"/>
<circle cx="391.34" cy="282.18" r="2.4" fill="none" stroke="#f80808" stroke-width="1"/>
<circle cx="396.35" cy="282.18" r="2.4" fill="none" stroke="#f80808" stroke-width="1"/>
<circle cx="400.96" cy="282.18" r="2.4" fill="none" stroke="#f80808" stroke-width="1"/>
<circle cx="408.45" cy="282.18" r="2.4" fill="none" stroke="#f80808" stroke-width="1"/>
<circle cx="413.13" cy="282.18" r="2.4" fill="none" stroke="#f80808" stroke-width="1"/>
<circle cx="417.7" cy="282.18" r="2.4" fill="none" stroke="#f80808" stroke-width="1"/>
<circle cx="424.95" cy="282.18" r="2.4" fill="none" stroke="#f80808" stroke-width="1"/>
<circle cx="429.24" cy="282.18" r="2.4" fill="none" stroke="#f80808" stroke-width="1"/>
<circle cx="434" cy="282.18" r="2.4" fill="none" stroke="#f80808" stroke-width="1"/>
<circle cx="361.5" cy="278.8" r="2.4" fill="none" stroke="#f80808" stroke-width="1"/>
<circle cx="370.26" cy="278.8" r="2.4" fill="none" stroke="#f80808" stroke-width="1"/>
<circle cx="379.61" cy="278.8" r="2.4" fill="none" stroke="#f80808" stroke-width="1"/>
<circle cx="383.86" cy="278.8" r="2.4" fill="none" stroke="#f80808" stroke-width="1"/>
<circle cx="388.05" cy="278.8" r="2.4" fill="none" stroke="#f80808" stroke-width="1"/>
<circle cx="392.28" cy="278.8" r="2.4" fill="none" stroke="#f80808" stroke-width="1"/>
<circle cx="400.75" cy="278.8" r="2.4" fill="none" stroke="#f80808" stroke-width="1"/>
<circle cx="404.29" cy="278.8" r="2.4" fill="none" stroke="#f80808" stroke-width="1"/>
<circle cx="418.33" cy="278.8" r="2.4" fill="none" stroke="#f80808" stroke-width="1"/>
<circle cx="422.19" cy="278.8" r="2.4" fill="none" stroke="#f80808" stroke-width="1"/>
<circle cx="426.42" cy="278.8" r="2.4" fill="none" stroke="#f80808" stroke-width="1"/>
<circle cx="430.86" cy="278.8" r="2.4" fill="none" stroke="#f80808" stroke-width="1"/>
<circle cx="373" cy="275.41" r="2.4" fill="none" stroke="#f80808" stroke-width="1"/>
<circle cx="377.89" cy="275.41" r="2.4" fill="none" stroke="#f80808" stroke-width="1"/>
<circle cx="381.61" cy="275.41" r="2.4" fill="none" stroke="#f80808" stroke-width="1"/>
<circle cx="390.15" cy="275.41" r="2.4" fill="none" stroke="#f80808" stroke-width="1"/>
<circle cx="394.73" cy="275.41" r="2.4" fill="none" stroke="#f80808" stroke-width="1"/>
<circle cx="398.39" cy="275.41" r="2.4" fill="none" stroke="#f80808" stroke-width="1"/>
<circle cx="411.2" cy="275.41" r="2.4" fill="none" stroke="#f80808" stroke-width="1"/>
<circle cx="415.01" cy="275.41" r="2.4" fill="none" stroke="#f80808" stroke-width="1"/>
<circle cx="420.4" cy="275.41" r="2.4" fill="none" stroke="#f80808" stroke-width="1"/>
<circle cx="425.09" cy="275.41" r="2.4" fill="none" stroke="#f80808" stroke-width="1"/>
<circle cx="433.12" cy="275.41" r="2.4" fill="none" stroke="#f80808" stroke-width="1"/>
<circle cx="437" cy="275.41" r="2.4" fill="none" stroke="#f80808" stroke-width="1"/>
<circle cx="373.76" cy="272.03" r="2.4" fill="none" stroke="#f80808" stroke-width="1"/>
<circle cx="376.72" cy="272.03" r="2.4" fill="none" stroke="#f80808" stroke-width="1"/>
<circle cx="387.08" cy="272.03" r="2.4" fill="none" stroke="#f80808" stroke-width="1"/>
<circle cx="394.42" cy="272.03" r="2.4" fill="none" stroke="#f80808" stroke-width="1"/>
<circle cx="399.53" cy="272.03" r="2.4" fill="none" stroke="#f80808" stroke-width="1"/>
<circle cx="403.7" cy="272.03" r="2.4" fill="none" stroke="#f80808" stroke-width="1"/>
<circle cx="408.65" cy="272.03" r="2.4" fill="none" stroke="#f80808" stroke-width="1"/>
<circle cx="412.04" cy="272.03" r="2.4" fill="none" stroke="#f80808" stroke-width="1"/>
<circle cx="417.75" cy="272.03" r="2.4" fill="none" stroke="#f80808" stroke-width="1"/>
<circle cx="420.89" cy="272.03" r="2.4" fill="none" stroke="#f80808" stroke-width="1"/>
<circle cx="429.42" cy="272.03" r="2.4" fill="none" stroke="#f80808" stroke-width="1"/>
<circle cx="434.55" cy="272.03" r="2.4" fill="none" stroke="#f80808" stroke-width="1"/>
<circle cx="438.16" cy="272.03" r="2.4" fill="none" stroke="#f80808" stroke-width="1"/>
<circle cx="383" cy="268.64" r="2.4" fill="none" stroke="#f80808" stroke-width="1"/>
<circle cx="386.82" cy="268.64" r="2.4" fill="none" stroke="#f80808" stroke-width="1"/>
<circle cx="391.7" cy="268.64" r="2.4" fill="none" stroke="#f80808" stroke-width="1"/>
<circle cx="395.38" cy="268.64" r="2.4" fill="none" stroke="#f80808" stroke-width="1"/>
<circle cx="398.82" cy="268.64" r="2.4" fill="none" stroke="#f80808" stroke-width="1"/>
<circle cx="404.66" cy="268.64" r="2.4" fill="none" stroke="#f80808" stroke-width="1"/>
<circle cx="408.62" cy="268.64" r="2.4" fill="none" stroke="#f80808" stroke-width="1"/>
<circle cx="412.83" cy="268.64" r="2.4" fill="none" stroke="#f80808" stroke-width="1"/>
<circle cx="415.77" cy="268.64" r="2.4" fill="none" stroke="#f80808" stroke-width="1"/>
<circle cx="420.19" cy="268.64" r="2.4" fill="none" stroke="#f80808" stroke-width="1"/>
<circle cx="424.05" cy="268.64" r="2.4" fill="none" stroke="#f80808" stroke-width="1"/>
<circle cx="428.02" cy="268.64" r="2.4" fill="none" stroke="#f80808" stroke-width="1"/>
<circle cx="432.01" cy="268.64" r="2.4" fill="none" stroke="#f80808" stroke-width="1"/>
<circle cx="437" cy="268.64" r="2.4" fill="none" stroke="#f80808" stroke-width="1"/>
<circle cx="378.8" cy="265.26" r="2.4" fill="none" stroke="#f80808" stroke-width="1"/>
<circle cx="391" cy="265.26" r="2.4" fill="none" stroke="#f80808" stroke-width="1"/>
<circle cx="394.69" cy="265.26" r="2.4" fill="none" stroke="#f80808" stroke-width="1"/>
<circle cx="400.19" cy="265.26" r="2.4" fill="none" stroke="#f80808" stroke-width="1"/>
<circle cx="403.79" cy="265.26" r="2.4" fill="none" stroke="#f80808" stroke-width="1"/>
<circle cx="412.67" cy="265.26" r="2.4" fill="none" stroke="#f80808" stroke-width="1"/>
<circle cx="416.21" cy="265.26" r="2.4" fill="none" stroke="#f80808" stroke-width="1"/>
<circle cx="424.79" cy="265.26" r="2.4" fill="none" stroke="#f80808" stroke-width="1"/>
<circle cx="429.48" cy="265.26" r="2.4" fill="none" stroke="#f80808" stroke-width="1"/>
<circle cx="433.96" cy="265.26" r="2.4" fill="none" stroke="#f80808" stroke-width="1"/>
<circle cx="438" cy="265.26" r="2.4" fill="none" stroke="#f80808" stroke-width="1"/>
<circle cx="448" cy="265.26" r="2.4" fill="none" stroke="#f80808" stroke-width="1"/>
<circle cx="452.52" cy="265.26" r="2.4" fill="none" stroke="#f80808" stroke-width="1"/>
<circle cx="456" cy="265.26" r="2.4" fill="none" stroke="#f80808" stroke-width="1"/>
<circle cx="394" cy="261.87" r="2.4" fill="none" stroke="#f80808" stroke-width="1"/>
<circle cx="397.68" cy="261.87" r="2.4" fill="none" stroke="#f80808" stroke-width="1"/>
<circle cx="401.97" cy="261.87" r="2.4" fill="none" stroke="#f80808" stroke-width="1"/>
<circle cx="407.86" cy="261.87" r="2.4" fill="none" stroke="#f80808" stroke-width="1"/>
<circle cx="412.13" cy="261.87" r="2.4" fill="none" stroke="#f80808" stroke-width="1"/>
<circle cx="415.18" cy="261.87" r="2.4" fill="none" stroke="#f80808" stroke-width="1"/>
<circle cx="420.85" cy="261.87" r="2.4" fill="none" stroke="#f80808" stroke-width="1"/>
<circle cx="423.81" cy="261.87" r="2.4" fill="none" stroke="#f80808" stroke-width="1"/>
<circle cx="428.68" cy="261.87" r="2.4" fill="none" stroke="#f80808" stroke-width="1"/>
<circle cx="433" cy="261.87" r="2.4" fill="none" stroke="#f80808" stroke-width="1"/>
<circle cx="438.08" cy="261.87" r="2.4" fill="none" stroke="#f80808" stroke-width="1"/>
<circle cx="440.84" cy="261.87" r="2.4" fill="none" stroke="#f80808" stroke-width="1"/>
<circle cx="445.67" cy="261.87" r="2.4" fill="none" stroke="#f80808" stroke-width="1"/>
<circle cx="450.51" cy="261.87" r="2.4" fill="none" stroke="#f80808" stroke-width="1"/>
<circle cx="453.89" cy="261.87" r="2.4" fill="none" stroke="#f80808" stroke-width="1"/>
<circle cx="458.53" cy="261.87" r="2.4" fill="none" stroke="#f80808" stroke-width="1"/>
<circle cx="468.6" cy="261.87" r="2.4" fill="none" stroke="#f80808" stroke-width="1"/>
<circle cx="399" cy="258.49" r="2.4" fill="none" stroke="#f80808" stroke-width="1"/>
<circle cx="404.15" cy="258.49" r="2.4" fill="none" stroke="#f80808" stroke-width="1"/>
<circle cx="408.39" cy="258.49" r="2.4" fill="none" stroke="#f80808" stroke-width="1"/>
<circle cx="417.32" cy="258.49" r="2.4" fill="none" stroke="#f80808" stroke-width="1"/>
<circle cx="421.68" cy="258.49" r="2.4" fill="none" stroke="#f80808" stroke-width="1"/>
<circle cx="426.4" cy="258.49" r="2.4" fill="none" stroke="#f80808" stroke-width="1"/>
<circle cx="430.56" cy="258.49" r="2.4" fill="none" stroke="#f80808" stroke-width="1"/>
<circle cx="435.12" cy="258.49" r="2.4" fill="none" stroke="#f80808" stroke-width="1"/>
<circle cx="438.8" cy="258.49" r="2.4" fill="none" stroke="#f80808" stroke-width="1"/>
<circle cx="448.54" cy="258.49" r="2.4" fill="none" stroke="#f80808" stroke-width="1"/>
<circle cx="451.94" cy="258.49" r="2.4" fill="none" stroke="#f80808" stroke-width="1"/>
<circle cx="457" cy="258.49" r="2.4" fill="none" stroke="#f80808" stroke-width="1"/>
<circle cx="463" cy="258.49" r="2.4" fill="none" stroke="#f80808" stroke-width="1"/>
<circle cx="404.17" cy="255.1" r="2.4" fill="none" stroke="#f80808" stroke-width="1"/>
<circle cx="413.4" cy="255.1" r="2.4" fill="none" stroke="#f80808" stroke-width="1"/>
<circle cx="416.3" cy="255.1" r="2.4" fill="none" stroke="#f80808" stroke-width="1"/>
<circle cx="421.26" cy="255.1" r="2.4" fill="none" stroke="#f80808" stroke-width="1"/>
<circle cx="424.8" cy="255.1" r="2.4" fill="none" stroke="#f80808" stroke-width="1"/>
<circle cx="434.29" cy="255.1" r="2.4" fill="none" stroke="#f80808" stroke-width="1"/>
<circle cx="439.01" cy="255.1" r="2.4" fill="none" stroke="#f80808" stroke-width="1"/>
<circle cx="442.38" cy="255.1" r="2.4" fill="none" stroke="#f80808" stroke-width="1"/>
<circle cx="447.62" cy="255.1" r="2.4" fill="none" stroke="#f80808" stroke-width="1"/>
<circle cx="455.95" cy="255.1" r="2.4" fill="none" stroke="#f80808" stroke-width="1"/>
<circle cx="460" cy="255.1" r="2.4" fill="none" stroke="#f80808" stroke-width="1"/>
<circle cx="409" cy="251.72" r="2.4" fill="none" stroke="#f80808" stroke-width="1"/>
<circle cx="413.18" cy="251.72" r="2.4" fill="none" stroke="#f80808" stroke-width="1"/>
<circle cx="418.01" cy="251.72" r="2.4" fill="none" stroke="#f80808" stroke-width="1"/>
<circle cx="430.97" cy="251.72" r="2.4" fill="none" stroke="#f80808" stroke-width="1"/>
<circle cx="434.48" cy="251.72" r="2.4" fill="none" stroke="#f80808" stroke-width="1"/>
<circle cx="444.15" cy="251.72" r="2.4" fill="none" stroke="#f80808" stroke-width="1"/>
<circle cx="447.22" cy="251.72" r="2.4" fill="none" stroke="#f80808" stroke-width="1"/>
<circle cx="455.79" cy="251.72" r="2.4" fill="none" stroke="#f80808" stroke-width="1"/>
<circle cx="461.83" cy="251.72" r="2.4" fill="none" stroke="#f80808" stroke-width="1"/>
<circle cx="465.28" cy="251.72" r="2.4" fill="none" stroke="#f80808" stroke-width="1"/>
<circle cx="469.5" cy="251.72" r="2.4" fill="none" stroke="#f80808" stroke-width="1"/>
<circle cx="474" cy="251.72" r="2.4" fill="none" stroke="#f80808" stroke-width="1"/>
<circle cx="405.5" cy="248.34" r="2.4" fill="none" stroke="#f80808" stroke-width="1"/>
<circle cx="415.04" cy="248.34" r="2.4" fill="none" stroke="#f80808" stroke-width="1"/>
<circle cx="419.65" cy="248.34" r="2.4" fill="none" stroke="#f80808" stroke-width="1"/>
<circle cx="422.71" cy="248.34" r="2.4" fill="none" stroke="#f80808" stroke-width="1"/>
<circle cx="427.81" cy="248.34" r="2.4" fill="none" stroke="#f80808" stroke-width="1"/>
<circle cx="432.03" cy="248.34" r="2.4" fill="none" stroke="#f80808" stroke-width="1"/>
<circle cx="436.93" cy="248.34" r="2.4" fill="none" stroke="#f80808" stroke-width="1"/>
<circle cx="439.56" cy="248.34" r="2.4" fill="none" stroke="#f80808" stroke-width="1"/>
<circle cx="444.53" cy="248.34" r="2.4" fill="none" stroke="#f80808" stroke-width="1"/>
<circle cx="449.08" cy="248.34" r="2.4" fill="none" stroke="#f80808" stroke-width="1"/>
<circle cx="456.54" cy="248.34" r="2.4" fill="none" stroke="#f80808" stroke-width="1"/>
<circle cx="461.71" cy="248.34" r="2.4" fill="none" stroke="#f80808" stroke-width="1"/>
<circle cx="465.27" cy="248.34" r="2.4" fill="none" stroke="#f80808" stroke-width="1"/>
<circle cx="469.45" cy="248.34" r="2.4" fill="none" stroke="#f80808" stroke-width="1"/>
<circle cx="479" cy="248.34" r="2.4" fill="none" stroke="#f80808" stroke-width="1"/>
<circle cx="406" cy="244.95" r="2.4" fill="none" stroke="#f80808" stroke-width="1"/>
<circle cx="411" cy="244.95" r="2.4" fill="none" stroke="#f80808" stroke-width="1"/>
<circle cx="436.68" cy="244.95" r="2.4" fill="none" stroke="#f80808" stroke-width="1"/>
<circle cx="449.58" cy="244.95" r="2.4" fill="none" stroke="#f80808" stroke-width="1"/>
<circle cx="453.87" cy="244.95" r="2.4" fill="none" stroke="#f80808" stroke-width="1"/>
<circle cx="457.97" cy="244.95" r="2.4" fill="none" stroke="#f80808" stroke-width="1"/>
<circle cx="462.8" cy="244.95" r="2.4" fill="none" stroke="#f80808" stroke-width="1"/>
<circle cx="471" cy="244.95" r="2.4" fill="none" stroke="#f80808" stroke-width="1"/>
<circle cx="480.6" cy="244.95" r="2.4" fill="none" stroke="#f80808" stroke-width="1"/>
<circle cx="431.57" cy="241.57" r="2.4" fill="none" stroke="#f80808" stroke-width="1"/>
<circle cx="439.92" cy="241.57" r="2.4" fill="none" stroke="#f80808" stroke-width="1"/>
<circle cx="443.83" cy="241.57" r="2.4" fill="none" stroke="#f80808" stroke-width="1"/>
<circle cx="448.44" cy="241.57" r="2.4" fill="none" stroke="#f80808" stroke-width="1"/>
<circle cx="452.48" cy="241.57" r="2.4" fill="none" stroke="#f80808" stroke-width="1"/>
<circle cx="457" cy="241.57" r="2.4" fill="none" stroke="#f80808" stroke-width="1"/>
<circle cx="479" cy="241.57" r="2.4" fill="none" stroke="#f80808" stroke-width="1"/>
<circle cx="429.4" cy="238.18" r="2.4" fill="none" stroke="#f80808" stroke-width="1"/>
<circle cx="442" cy="238.18" r="2.4" fill="none" stroke="#f80808" stroke-width="1"/>
<circle cx="446.27" cy="238.18" r="2.4" fill="none" stroke="#f80808" stroke-width="1"/>
<circle cx="451.13" cy="238.18" r="2.4" fill="none" stroke="#f80808" stroke-width="1"/>
<circle cx="455" cy="238.18" r="2.4" fill="none" stroke="#f80808" stroke-width="1"/>
<circle cx="467.3" cy="238.18" r="2.4" fill="none" stroke="#f80808" stroke-width="1"/>
<circle cx="479" cy="238.18" r="2.4" fill="none" stroke="#f80808" stroke-width="1"/>
<circle cx="441.2" cy="234.8" r="2.4" fill="none" stroke="#f80808" stroke-width="1"/>
<circle cx="460" cy="234.8" r="2.4" fill="none" stroke="#f80808" stroke-width="1"/>
<circle cx="464.59" cy="234.8" r="2.4" fill="none" stroke="#f80808" stroke-width="1"/>
<circle cx="467.79" cy="234.8" r="2.4" fill="none" stroke="#f80808" stroke-width="1"/>
<circle cx="472" cy="234.8" r="2.4" fill="none" stroke="#f80808" stroke-width="1"/>
<circle cx="481.5" cy="234.8" r="2.4" fill="none" stroke="#f80808" stroke-width="1"/>
<circle cx="444.3" cy="231.41" r="2.4" fill="none" stroke="#f80808" stroke-width="1"/>
<circle cx="464.51" cy="231.41" r="2.4" fill="none" stroke="#f80808" stroke-width="1"/>
<circle cx="467.41" cy="231.41" r="2.4" fill="none" stroke="#f80808" stroke-width="1"/>
<circle cx="471" cy="231.41" r="2.4" fill="none" stroke="#f80808" stroke-width="1"/>
<circle cx="476" cy="231.41" r="2.4" fill="none" stroke="#f80808" stroke-width="1"/>
<circle cx="480.6" cy="231.41" r="2.4" fill="none" stroke="#f80808" stroke-width="1"/>
<circle cx="468.8" cy="228.03" r="2.4" fill="none" stroke="#f80808" stroke-width="1"/>
<circle cx="505.7" cy="228.03" r="2.4" fill="none" stroke="#f80808" stroke-width="1"/>
<circle cx="461" cy="224.64" r="2.4" fill="none" stroke="#f80808" stroke-width="1"/>
<circle cx="470.4" cy="224.64" r="2.4" fill="none" stroke="#f80808" stroke-width="1"/>
<circle cx="496.3" cy="221.26" r="2.4" fill="none" stroke="#f80808" stroke-width="1"/>
<circle cx="504.2" cy="221.26" r="2.4" fill="none" stroke="#f80808" stroke-width="1"/>
<circle cx="490.8" cy="217.88" r="2.4" fill="none" stroke="#f80808" stroke-width="1"/>
<circle cx="516" cy="217.88" r="2.4" fill="none" stroke="#f80808" stroke-width="1"/>
<circle cx="446.7" cy="214.49" r="2.4" fill="none" stroke="#f80808" stroke-width="1"/>
<circle cx="475.8" cy="214.49" r="2.4" fill="none" stroke="#f80808" stroke-width="1"/>
<circle cx="505.5" cy="211.11" r="2.4" fill="none" stroke="#f80808" stroke-width="1"/>
<circle cx="508.7" cy="207.72" r="2.4" fill="none" stroke="#f80808" stroke-width="1"/>
<circle cx="512.6" cy="204.34" r="2.4" fill="none" stroke="#f80808" stroke-width="1"/>
</g>
<line x1="336.8" y1="316.36" x2="516.41" y2="206.71" stroke="#f80808" stroke-width="1.4"/>
<line x1="378.28" y1="343.1" x2="378.28" y2="190.8" stroke="#b8b8ff" stroke-width="1"/>
<line x1="378.28" y1="343.1" x2="378.28" y2="190.8" stroke="#3535ff" stroke-width="1" stroke-dasharray="1,1"/>
<line x1="336.8" y1="292.33" x2="378.28" y2="292.33" stroke="#b8b8ff" stroke-width="1"/>
<line x1="336.8" y1="292.33" x2="378.28" y2="292.33" stroke="#3535ff" stroke-width="1" stroke-dasharray="1,1"/>
<rect x="336.8" y="190.8" width="207.4" height="152.3" fill="none" stroke="#666" stroke-width="1.1"/>
<line x1="336.8" y1="343.1" x2="336.8" y2="339.9" stroke="#666" stroke-width="1"/>
<line x1="378.28" y1="343.1" x2="378.28" y2="339.9" stroke="#666" stroke-width="1"/>
<line x1="419.76" y1="343.1" x2="419.76" y2="339.9" stroke="#666" stroke-width="1"/>
<line x1="461.24" y1="343.1" x2="461.24" y2="339.9" stroke="#666" stroke-width="1"/>
<line x1="502.72" y1="343.1" x2="502.72" y2="339.9" stroke="#666" stroke-width="1"/>
<line x1="544.2" y1="343.1" x2="544.2" y2="339.9" stroke="#666" stroke-width="1"/>
<line x1="357.54" y1="343.1" x2="357.54" y2="341.3" stroke="#666" stroke-width="1"/>
<line x1="399.02" y1="343.1" x2="399.02" y2="341.3" stroke="#666" stroke-width="1"/>
<line x1="440.5" y1="343.1" x2="440.5" y2="341.3" stroke="#666" stroke-width="1"/>
<line x1="481.98" y1="343.1" x2="481.98" y2="341.3" stroke="#666" stroke-width="1"/>
<line x1="523.46" y1="343.1" x2="523.46" y2="341.3" stroke="#666" stroke-width="1"/>
<text x="336.8" y="355.4" font-size="9.6" text-anchor="middle" font-weight="normal" font-style="normal" fill="#222" stroke="#222" stroke-width="0.32" >0</text>
<text x="378.28" y="355.4" font-size="9.6" text-anchor="middle" font-weight="normal" font-style="normal" fill="#222" stroke="#222" stroke-width="0.32" >1</text>
<text x="419.76" y="355.4" font-size="9.6" text-anchor="middle" font-weight="normal" font-style="normal" fill="#222" stroke="#222" stroke-width="0.32" >2</text>
<text x="461.24" y="355.4" font-size="9.6" text-anchor="middle" font-weight="normal" font-style="normal" fill="#222" stroke="#222" stroke-width="0.32" >3</text>
<text x="502.72" y="355.4" font-size="9.6" text-anchor="middle" font-weight="normal" font-style="normal" fill="#222" stroke="#222" stroke-width="0.32" >4</text>
<text x="544.2" y="355.4" font-size="9.6" text-anchor="middle" font-weight="normal" font-style="normal" fill="#222" stroke="#222" stroke-width="0.32" >5</text>
<line x1="336.8" y1="343.1" x2="340" y2="343.1" stroke="#666" stroke-width="1"/>
<line x1="336.8" y1="326.18" x2="340" y2="326.18" stroke="#666" stroke-width="1"/>
<line x1="336.8" y1="309.26" x2="340" y2="309.26" stroke="#666" stroke-width="1"/>
<line x1="336.8" y1="292.33" x2="340" y2="292.33" stroke="#666" stroke-width="1"/>
<line x1="336.8" y1="275.41" x2="340" y2="275.41" stroke="#666" stroke-width="1"/>
<line x1="336.8" y1="258.49" x2="340" y2="258.49" stroke="#666" stroke-width="1"/>
<line x1="336.8" y1="241.57" x2="340" y2="241.57" stroke="#666" stroke-width="1"/>
<line x1="336.8" y1="224.64" x2="340" y2="224.64" stroke="#666" stroke-width="1"/>
<line x1="336.8" y1="207.72" x2="340" y2="207.72" stroke="#666" stroke-width="1"/>
<line x1="336.8" y1="190.8" x2="340" y2="190.8" stroke="#666" stroke-width="1"/>
<line x1="336.8" y1="334.64" x2="338.6" y2="334.64" stroke="#666" stroke-width="1"/>
<line x1="336.8" y1="317.72" x2="338.6" y2="317.72" stroke="#666" stroke-width="1"/>
<line x1="336.8" y1="300.79" x2="338.6" y2="300.79" stroke="#666" stroke-width="1"/>
<line x1="336.8" y1="283.87" x2="338.6" y2="283.87" stroke="#666" stroke-width="1"/>
<line x1="336.8" y1="266.95" x2="338.6" y2="266.95" stroke="#666" stroke-width="1"/>
<line x1="336.8" y1="250.03" x2="338.6" y2="250.03" stroke="#666" stroke-width="1"/>
<line x1="336.8" y1="233.11" x2="338.6" y2="233.11" stroke="#666" stroke-width="1"/>
<line x1="336.8" y1="216.18" x2="338.6" y2="216.18" stroke="#666" stroke-width="1"/>
<line x1="336.8" y1="199.26" x2="338.6" y2="199.26" stroke="#666" stroke-width="1"/>
<text x="333.3" y="346.4" font-size="9.6" text-anchor="end" font-weight="normal" font-style="normal" fill="#222" stroke="#222" stroke-width="0.32" >0</text>
<text x="333.3" y="329.48" font-size="9.6" text-anchor="end" font-weight="normal" font-style="normal" fill="#222" stroke="#222" stroke-width="0.32" >5</text>
<text x="333.3" y="312.56" font-size="9.6" text-anchor="end" font-weight="normal" font-style="normal" fill="#222" stroke="#222" stroke-width="0.32" >10</text>
<text x="333.3" y="295.63" font-size="9.6" text-anchor="end" font-weight="normal" font-style="normal" fill="#222" stroke="#222" stroke-width="0.32" >15</text>
<text x="333.3" y="278.71" font-size="9.6" text-anchor="end" font-weight="normal" font-style="normal" fill="#222" stroke="#222" stroke-width="0.32" >20</text>
<text x="333.3" y="261.79" font-size="9.6" text-anchor="end" font-weight="normal" font-style="normal" fill="#222" stroke="#222" stroke-width="0.32" >25</text>
<text x="333.3" y="244.87" font-size="9.6" text-anchor="end" font-weight="normal" font-style="normal" fill="#222" stroke="#222" stroke-width="0.32" >30</text>
<text x="333.3" y="227.94" font-size="9.6" text-anchor="end" font-weight="normal" font-style="normal" fill="#222" stroke="#222" stroke-width="0.32" >35</text>
<text x="333.3" y="211.02" font-size="9.6" text-anchor="end" font-weight="normal" font-style="normal" fill="#222" stroke="#222" stroke-width="0.32" >40</text>
<text x="333.3" y="194.1" font-size="9.6" text-anchor="end" font-weight="normal" font-style="normal" fill="#222" stroke="#222" stroke-width="0.32" >45</text>
<circle cx="423.2" cy="319.1" r="2.4" fill="none" stroke="#f80808" stroke-width="1"/>
<line x1="410.9" y1="331.9" x2="434.9" y2="331.9" stroke="#f80808" stroke-width="1.4"/>
<text x="437.4" y="322.8" font-size="10.35" text-anchor="start" font-weight="normal" font-style="normal" fill="#222" stroke="#222" stroke-width="0.32" >Normal austenite grains</text>
<text x="437.4" y="335.9" font-size="10.35" text-anchor="start" font-weight="normal" font-style="normal" fill="#222" stroke="#222" stroke-width="0.32" >Linear fitting results</text>
<text x="301" y="194.6" font-size="14" text-anchor="start" font-weight="bold" font-style="normal" fill="#111" stroke="#111" stroke-width="0.32" >(d)</text>
<text x="0" y="0" font-size="10.5" fill="#333" font-style="italic" transform="translate(315.9 279.5) rotate(-90)">n<tspan font-size="7" dy="2.5">F</tspan></text>
<text x="421.3" y="375.4" font-size="11.2" fill="#333" stroke="#333" stroke-width="0.2">(<tspan font-style="italic">V</tspan><tspan font-size="7" dy="3" font-style="italic">g</tspan><tspan dy="-3">/</tspan><tspan font-style="italic">V</tspan><tspan font-size="7" dy="3" font-style="italic">g</tspan><tspan font-size="6" dy="-9.0" font-style="italic" dx="-3.6">a</tspan><tspan dy="6.0" dx="0.4">)</tspan><tspan font-size="5.9" dy="-6.9" dx="0.3">2/3</tspan></text></svg>
</body></html>
